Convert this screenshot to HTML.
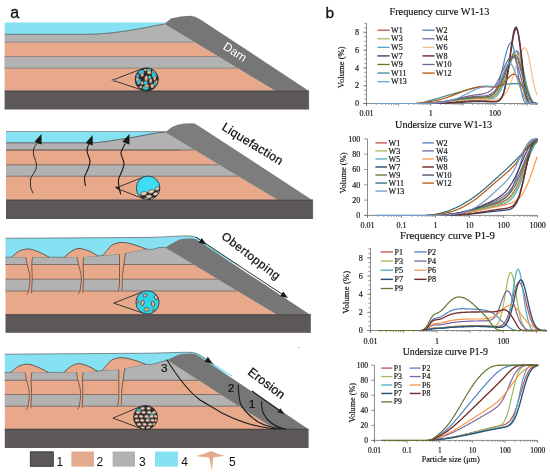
<!DOCTYPE html>
<html><head><meta charset="utf-8"><title>Figure</title>
<style>html,body{margin:0;padding:0;background:#fff}svg{display:block}</style>
</head><body>
<svg width="550" height="474" viewBox="0 0 550 474">
<rect width="550" height="474" fill="#fff"/>
<polygon points="4.6,42.2 194.53,42.2 275,90.8 4.6,90.8" fill="#e7a98a"/>
<polygon points="4.6,56.5 218.21,56.5 237.58,68.2 4.6,68.2" fill="#b2b2b2"/>
<path d="M4.6,34.3 L85,34.3 C115,34.3 140,28.5 164.4,24 L194.53,42.2 L4.6,42.2 Z" fill="#b2b2b2"/>
<line x1="4.6" y1="42.2" x2="194.53" y2="42.2" stroke="#6a5e5a" stroke-width="0.6" opacity="0.85"/>
<line x1="4.6" y1="56.5" x2="218.21" y2="56.5" stroke="#6a5e5a" stroke-width="0.6" opacity="0.85"/>
<line x1="4.6" y1="68.2" x2="237.58" y2="68.2" stroke="#6a5e5a" stroke-width="0.6" opacity="0.85"/>
<path d="M4.6,22.5 L167,22.5 L164.4,24 C140,28.5 115,34.3 85,34.3 L4.6,34.3 Z" fill="#86e1f3"/>
<path d="M4.6,34.3 L85,34.3 C115,34.3 140,28.5 164.4,24" fill="none" stroke="#333" stroke-width="0.6"/>
<path d="M164.4,24 L171,18.6 Q181,16 190,15.8 Q195.5,15.9 200,19.2 L308.6,90.8 L275,90.8 Z" fill="#767676"/>
<rect x="4.6" y="90.8" width="304.4" height="18.7" fill="#5c5857"/>
<line x1="4.6" y1="91" x2="309" y2="91" stroke="#3a3838" stroke-width="0.8"/>
<line x1="308.7" y1="90.8" x2="308.7" y2="109.5" stroke="#777" stroke-width="0.6"/>
<text x="235" y="56" font-family="Liberation Sans, Arial, sans-serif" font-size="12" fill="#fff" text-anchor="middle" transform="rotate(33 235 52)">Dam</text>
<line x1="112.4" y1="80.2" x2="142.52" y2="68.58" stroke="#2b2b2b" stroke-width="0.9"/>
<line x1="112.4" y1="80.2" x2="143.03" y2="90.41" stroke="#2b2b2b" stroke-width="0.9"/>
<circle cx="112.9" cy="80.2" r="1" fill="#f3ddd0" stroke="#2b2b2b" stroke-width="0.5"/>
<circle cx="146.7" cy="79.4" r="11.6" fill="#2a2c2e"/>
<clipPath id="cp1"><circle cx="146.7" cy="79.4" r="11.6"/></clipPath>
<g clip-path="url(#cp1)">
<ellipse cx="141.2" cy="71.9" rx="3" ry="2" fill="#2fc4d6"/>
<ellipse cx="154.2" cy="74.4" rx="2.5" ry="3.5" fill="#2fc4d6"/>
<ellipse cx="138.7" cy="81.4" rx="2" ry="3" fill="#2fc4d6"/>
<ellipse cx="145.7" cy="82.9" rx="2" ry="2" fill="#2fc4d6"/>
<ellipse cx="149.7" cy="77.4" rx="1.5" ry="1.8" fill="#2fc4d6"/>
<ellipse cx="145.7" cy="87.9" rx="3" ry="1.8" fill="#2fc4d6"/>
<ellipse cx="155.2" cy="83.4" rx="1.5" ry="2.5" fill="#2fc4d6"/>
<ellipse cx="137.7" cy="75.9" rx="1.5" ry="2" fill="#2fc4d6"/>
<ellipse cx="148.7" cy="69.9" rx="2.5" ry="1.5" fill="#2fc4d6"/>
<ellipse cx="142.2" cy="74.9" rx="1.6" ry="1.9" transform="rotate(20 142.2 74.9)" fill="#e9b596" stroke="#2b2b2b" stroke-width="0.3"/>
<ellipse cx="149.2" cy="72.4" rx="2.2" ry="1.8" transform="rotate(0 149.2 72.4)" fill="#e9b596" stroke="#2b2b2b" stroke-width="0.3"/>
<ellipse cx="146.2" cy="78.4" rx="1.7" ry="2.8" transform="rotate(5 146.2 78.4)" fill="#e9b596" stroke="#2b2b2b" stroke-width="0.3"/>
<ellipse cx="137.2" cy="79.4" rx="1.3" ry="2.2" transform="rotate(0 137.2 79.4)" fill="#e9b596" stroke="#2b2b2b" stroke-width="0.3"/>
<ellipse cx="150.7" cy="80.9" rx="1.5" ry="2.3" transform="rotate(10 150.7 80.9)" fill="#e9b596" stroke="#2b2b2b" stroke-width="0.3"/>
<ellipse cx="154.7" cy="77.9" rx="1.4" ry="2.5" transform="rotate(0 154.7 77.9)" fill="#e9b596" stroke="#2b2b2b" stroke-width="0.3"/>
<ellipse cx="142.2" cy="82.9" rx="1.4" ry="2" transform="rotate(0 142.2 82.9)" fill="#e9b596" stroke="#2b2b2b" stroke-width="0.3"/>
<ellipse cx="152.2" cy="85.9" rx="1.8" ry="2.2" transform="rotate(0 152.2 85.9)" fill="#e9b596" stroke="#2b2b2b" stroke-width="0.3"/>
<ellipse cx="146.7" cy="85.9" rx="2.3" ry="1.3" transform="rotate(0 146.7 85.9)" fill="#e9b596" stroke="#2b2b2b" stroke-width="0.3"/>
<ellipse cx="140.7" cy="86.9" rx="1.5" ry="1.5" transform="rotate(0 140.7 86.9)" fill="#e9b596" stroke="#2b2b2b" stroke-width="0.3"/>
<ellipse cx="145.2" cy="69.9" rx="1.5" ry="1.2" transform="rotate(0 145.2 69.9)" fill="#e9b596" stroke="#2b2b2b" stroke-width="0.3"/>
<ellipse cx="156.7" cy="81.9" rx="1.1" ry="1.9" transform="rotate(0 156.7 81.9)" fill="#e9b596" stroke="#2b2b2b" stroke-width="0.3"/>
<ellipse cx="153.7" cy="71.4" rx="1.6" ry="1.3" transform="rotate(30 153.7 71.4)" fill="#e9b596" stroke="#2b2b2b" stroke-width="0.3"/>
</g>
<circle cx="146.7" cy="79.4" r="11.6" fill="none" stroke="#2a2c2e" stroke-width="0.8"/>
<text x="10.2" y="17.8" font-family="Liberation Sans, Arial, sans-serif" font-size="16" fill="#111" stroke="#111" stroke-width="0.3">a</text>
<text x="325.6" y="17.8" font-family="Liberation Sans, Arial, sans-serif" font-size="15.5" fill="#111" stroke="#111" stroke-width="0.3">b</text>
<polygon points="6,150 194.5,150 277.5,199.8 6,199.8" fill="#e7a98a"/>
<polygon points="6,164.8 219.17,164.8 238.17,176.2 6,176.2" fill="#b2b2b2"/>
<path d="M6,142.8 L95,142.8 C96.67,142.6 101.67,142.05 105,141.6 C108.33,141.15 110,140.87 115,140.1 C120,139.33 128.33,138.15 135,137 C141.67,135.85 150,133.98 155,133.2 C160,132.42 163.33,132.45 165,132.3 L194.5,150 L6,150 Z" fill="#b2b2b2"/>
<line x1="6" y1="150" x2="194.5" y2="150" stroke="#6a5a55" stroke-width="0.8" opacity="0.9"/>
<line x1="6" y1="164.8" x2="219.17" y2="164.8" stroke="#6a5a55" stroke-width="0.8" opacity="0.9"/>
<line x1="6" y1="176.2" x2="238.17" y2="176.2" stroke="#6a5a55" stroke-width="0.8" opacity="0.9"/>
<path d="M6,131.5 L166.2,131.5 L165,132.3  C163.33,132.45 160,132.42 155,133.2 C150,133.98 141.67,135.85 135,137 C128.33,138.15 120,139.33 115,140.1 C110,140.87 108.33,141.15 105,141.6 C101.67,142.05 96.67,142.6 95,142.8 L6,142.8 Z" fill="#86e1f3"/>
<line x1="6" y1="131.5" x2="166" y2="131.5" stroke="#666" stroke-width="0.6"/>
<path d="M6,142.8 L95,142.8 C96.67,142.6 101.67,142.05 105,141.6 C108.33,141.15 110,140.87 115,140.1 C120,139.33 128.33,138.15 135,137 C141.67,135.85 150,133.98 155,133.2 C160,132.42 163.33,132.45 165,132.3" fill="none" stroke="#333" stroke-width="0.7"/>
<line x1="6" y1="150" x2="180" y2="150" stroke="#6a5a55" stroke-width="0.8" opacity="0.9"/>
<path d="M165,132.3 L172,127 Q177,124.3 184,123.6 L192.5,123.3 Q195,123.4 198,125.5 L311,199.2 L311,199.8 L277.5,199.8 Z" fill="#7d7d7d"/>
<rect x="6" y="199.8" width="307" height="19.2" fill="#5c5857"/>
<line x1="6" y1="200" x2="313" y2="200" stroke="#3a3838" stroke-width="0.8"/>
<line x1="312.7" y1="199.8" x2="312.7" y2="219" stroke="#777" stroke-width="0.6"/>
<text x="252.7" y="148" font-family="Liberation Sans, Arial, sans-serif" font-size="12.3" letter-spacing="0.25" fill="#111" stroke="#111" stroke-width="0.25" text-anchor="middle" transform="rotate(31.5 252.7 143.8)">Liquefaction</text>
<path d="M33,193 C31,189 30.3,187 30.5,185 C30.3,182 30.4,180 31,178 C32,175.5 33.5,174 34.5,172 C36,169.5 36.6,167.5 36.5,165 C36.3,162.5 35.5,161 35,159 C34.2,157 33.6,156 33.5,154 C33.3,151.5 33.4,150 34,148 C34.8,146 36,144.5 37.8,142.8" fill="none" stroke="#1a1a1a" stroke-width="0.9" stroke-linecap="round"/>
<polygon points="41.5,134 41.65,144.51 38.08,143.19 34.52,141.86" fill="#1a1a1a"/>
<path d="M85.4,185.5 C85.27,184.08 84.17,179.75 84.6,177 C85.03,174.25 87.1,171.67 88,169 C88.9,166.33 90.17,164 90,161 C89.83,158 87.17,153.97 87,151 C86.83,148.03 88.67,144.5 89,143.2" fill="none" stroke="#1a1a1a" stroke-width="1.1" stroke-linecap="round"/>
<polygon points="92.6,135 92.82,145.51 89.25,144.21 85.68,142.91" fill="#1a1a1a"/>
<path d="M120.6,194 C120.33,192.83 119.33,189.5 119,187 C118.67,184.5 118.1,181.67 118.6,179 C119.1,176.33 121.1,173.67 122,171 C122.9,168.33 124.17,166 124,163 C123.83,160 120.83,156.17 121,153 C121.17,149.83 124.33,145.5 125,144" fill="none" stroke="#1a1a1a" stroke-width="1.1" stroke-linecap="round"/>
<polygon points="129.4,134 129.44,144.51 125.89,143.15 122.34,141.79" fill="#1a1a1a"/>
<line x1="116" y1="188" x2="143.73" y2="176.94" stroke="#2b2b2b" stroke-width="0.9"/>
<line x1="116" y1="188" x2="143.8" y2="198.89" stroke="#2b2b2b" stroke-width="0.9"/>
<path d="M114.3,186.6 L118.8,187 L121,192.5 L118.5,189.5 Z" fill="#1a1a1a"/>
<clipPath id="cp2"><circle cx="148.1" cy="187.9" r="11.8"/></clipPath>
<circle cx="148.1" cy="187.9" r="11.8" fill="#3fdcf3"/>
<g clip-path="url(#cp2)">
<path d="M140.1,194.4 l4,-1 l4.5,-1.5 l5,-1.5 l5,-3 l5,-2 l0,16 l-20,4 Z" fill="#2a2c2e"/>
<ellipse cx="143.9" cy="193.5" rx="3.1" ry="1.9" transform="rotate(-8 143.9 193.5)" fill="#f1cfba" stroke="#2b2b2b" stroke-width="0.5"/>
<ellipse cx="151.3" cy="191.5" rx="3" ry="1.8" transform="rotate(-14 151.3 191.5)" fill="#f1cfba" stroke="#2b2b2b" stroke-width="0.5"/>
<ellipse cx="157.3" cy="188.7" rx="2.4" ry="1.6" transform="rotate(-22 157.3 188.7)" fill="#f1cfba" stroke="#2b2b2b" stroke-width="0.5"/>
<ellipse cx="148.9" cy="196.5" rx="3" ry="1.7" transform="rotate(-6 148.9 196.5)" fill="#f1cfba" stroke="#2b2b2b" stroke-width="0.5"/>
<ellipse cx="155.7" cy="193.9" rx="2.7" ry="1.7" transform="rotate(-14 155.7 193.9)" fill="#f1cfba" stroke="#2b2b2b" stroke-width="0.5"/>
<ellipse cx="145.9" cy="199.1" rx="2.6" ry="1.3" transform="rotate(0 145.9 199.1)" fill="#f1cfba" stroke="#2b2b2b" stroke-width="0.5"/>
<ellipse cx="152.7" cy="198.7" rx="2.5" ry="1.3" transform="rotate(-8 152.7 198.7)" fill="#f1cfba" stroke="#2b2b2b" stroke-width="0.5"/>
<ellipse cx="159.1" cy="192.1" rx="1.4" ry="1.3" transform="rotate(0 159.1 192.1)" fill="#f1cfba" stroke="#2b2b2b" stroke-width="0.5"/>
</g>
<circle cx="148.1" cy="187.9" r="11.8" fill="none" stroke="#2a2c2e" stroke-width="0.8"/>
<polygon points="5.5,264.5 193.42,264.5 276.5,314.5 5.5,314.5" fill="#e7a98a"/>
<polygon points="5.5,279.2 217.84,279.2 237.45,291 5.5,291" fill="#b2b2b2"/>
<path d="M5.5,257.2 L64,257.2 L98,256 L103,255.3 L119.5,254.2 L125.5,253 L146,249 L152,249.5 L159,247.5 L165,247.4 L193.42,264.5 L5.5,264.5 Z" fill="#b2b2b2"/>
<line x1="5.5" y1="264.5" x2="193.42" y2="264.5" stroke="#6a5a55" stroke-width="0.8" opacity="0.9"/>
<line x1="5.5" y1="279.2" x2="217.84" y2="279.2" stroke="#6a5a55" stroke-width="0.8" opacity="0.9"/>
<line x1="5.5" y1="291" x2="237.45" y2="291" stroke="#6a5a55" stroke-width="0.8" opacity="0.9"/>
<path d="M5.5,238.3 L150,237.4 C170,236.8 180,235.8 188,235.9 C193,236 196,237 199,239 L240,266 L239.5,266.8 L197,241.5 L166,249 L160,259 L5.5,259 Z" fill="#86e1f3"/>
<path d="M5.5,257.2 L64,257.2 L98,256 L103,255.3 L119.5,254.2 L125.5,253 L146,249 L152,249.5 L159,247.5 L165,247.4 L193.42,264.5 L5.5,264.5 Z" fill="#b2b2b2"/>
<line x1="5.5" y1="264.5" x2="193.42" y2="264.5" stroke="#6a5a55" stroke-width="0.7" opacity="0.9"/>
<path d="M5.5,257.2 L64,257.2 L98,256 L103,255.3 L119.5,254.2 L125.5,253 L146,249 L152,249.5 L159,247.5 L165,247.4" fill="none" stroke="#555" stroke-width="0.6"/>
<path d="M165,247.4 L178,240.2 Q180.5,239 184,238.8 L191.5,238.5 Q195.5,238.6 198.4,240.8 L309,314 L309,314.5 L276.5,314.5 Z" fill="#767676"/>
<path d="M11.5,257.2 C12.08,256.7 13.58,255.28 15,254.2 C16.42,253.12 17.67,251.57 20,250.7 C22.33,249.83 25.67,248.7 29,249 C32.33,249.3 36.67,251.13 40,252.5 C43.33,253.87 47.5,256.42 49,257.2 L32.5,257.2 C32.38,258.42 31.85,261.17 31.8,264.5 C31.75,267.83 32.23,272.78 32.2,277.2 C32.17,281.62 31.72,288.33 31.6,291 C31.48,293.67 31.52,292.83 31.5,293.2 L28.7,290.9 L26.5,294.4 C26.87,293.83 28.12,293.87 28.7,291 C29.28,288.13 30.25,281.62 30,277.2 C29.75,272.78 27.9,267.83 27.2,264.5 C26.5,261.17 26.03,258.42 25.8,257.2 Z" fill="#e7a98a"/>
<path d="M11.5,257.2 C12.08,256.7 13.58,255.28 15,254.2 C16.42,253.12 17.67,251.57 20,250.7 C22.33,249.83 25.67,248.7 29,249 C32.33,249.3 36.67,251.13 40,252.5 C43.33,253.87 47.5,256.42 49,257.2" fill="none" stroke="#4a3c38" stroke-width="0.8"/>
<path d="M25.8,257.2 C26.03,258.42 26.5,261.17 27.2,264.5 C27.9,267.83 29.75,272.78 30,277.2 C30.25,281.62 29.28,288.13 28.7,291 C28.12,293.87 26.87,293.83 26.5,294.4" fill="none" stroke="#4a3c38" stroke-width="0.7"/>
<path d="M32.5,257.2 C32.38,258.42 31.85,261.17 31.8,264.5 C31.75,267.83 32.23,272.78 32.2,277.2 C32.17,281.62 31.72,288.33 31.6,291 C31.48,293.67 31.52,292.83 31.5,293.2" fill="none" stroke="#4a3c38" stroke-width="0.7"/>
<path d="M64.5,257.2 C65.08,256.67 66.58,255.15 68,254 C69.42,252.85 71,251.22 73,250.3 C75,249.38 77.17,248.3 80,248.5 C82.83,248.7 87,250.25 90,251.5 C93,252.75 96.67,255.25 98,256 L83.8,257 C83.68,258.22 83.15,260.97 83.1,264.3 C83.05,267.63 83.53,272.58 83.5,277 C83.47,281.42 83.02,288.13 82.9,290.8 C82.78,293.47 82.82,292.63 82.8,293 L80,290.7 L77.8,294.2 C78.17,293.63 79.42,293.67 80,290.8 C80.58,287.93 81.55,281.42 81.3,277 C81.05,272.58 79.2,267.63 78.5,264.3 C77.8,260.97 77.33,258.22 77.1,257 Z" fill="#e7a98a"/>
<path d="M64.5,257.2 C65.08,256.67 66.58,255.15 68,254 C69.42,252.85 71,251.22 73,250.3 C75,249.38 77.17,248.3 80,248.5 C82.83,248.7 87,250.25 90,251.5 C93,252.75 96.67,255.25 98,256" fill="none" stroke="#4a3c38" stroke-width="0.8"/>
<path d="M77.1,257 C77.33,258.22 77.8,260.97 78.5,264.3 C79.2,267.63 81.05,272.58 81.3,277 C81.55,281.42 80.58,287.93 80,290.8 C79.42,293.67 78.17,293.63 77.8,294.2" fill="none" stroke="#4a3c38" stroke-width="0.7"/>
<path d="M83.8,257 C83.68,258.22 83.15,260.97 83.1,264.3 C83.05,267.63 83.53,272.58 83.5,277 C83.47,281.42 83.02,288.13 82.9,290.8 C82.78,293.47 82.82,292.63 82.8,293" fill="none" stroke="#4a3c38" stroke-width="0.7"/>
<path d="M103,255.3 C103.67,254.5 105.33,252.3 107,250.5 C108.67,248.7 110.33,245.83 113,244.5 C115.67,243.17 119.33,242.42 123,242.5 C126.67,242.58 131.17,243.92 135,245 C138.83,246.08 144.17,248.33 146,249 L125.5,253 C125.27,254.67 124.6,259.33 124.1,263 C123.6,266.67 122.83,271 122.5,275 C122.17,279 122.17,284.42 122.1,287 C122.03,289.58 122.1,289.92 122.1,290.5 L120.1,288 L117.9,291.5 C118.13,290.58 119.03,288.42 119.3,286 C119.57,283.58 119.47,280.83 119.5,277 C119.53,273.17 119.5,266.8 119.5,263 C119.5,259.2 119.5,255.67 119.5,254.2 Z" fill="#e7a98a"/>
<path d="M103,255.3 C103.67,254.5 105.33,252.3 107,250.5 C108.67,248.7 110.33,245.83 113,244.5 C115.67,243.17 119.33,242.42 123,242.5 C126.67,242.58 131.17,243.92 135,245 C138.83,246.08 144.17,248.33 146,249" fill="none" stroke="#4a3c38" stroke-width="0.8"/>
<path d="M119.5,254.2 C119.5,255.67 119.5,259.2 119.5,263 C119.5,266.8 119.53,273.17 119.5,277 C119.47,280.83 119.57,283.58 119.3,286 C119.03,288.42 118.13,290.58 117.9,291.5" fill="none" stroke="#4a3c38" stroke-width="0.7"/>
<path d="M125.5,253 C125.27,254.67 124.6,259.33 124.1,263 C123.6,266.67 122.83,271 122.5,275 C122.17,279 122.17,284.42 122.1,287 C122.03,289.58 122.1,289.92 122.1,290.5" fill="none" stroke="#4a3c38" stroke-width="0.7"/>
<rect x="5.5" y="314.5" width="305.3" height="18.3" fill="#5c5857"/>
<line x1="5.5" y1="314.7" x2="310.8" y2="314.7" stroke="#3a3838" stroke-width="0.8"/>
<line x1="310.5" y1="314.5" x2="310.5" y2="332.8" stroke="#777" stroke-width="0.6"/>
<path d="M5.5,238.3 L150,237.4 C170,236.8 180,235.8 188,235.9 C193,236 196,237 199,239.2" fill="none" stroke="#444" stroke-width="0.6"/>
<path d="M196,237.2 C197,237.6 198,238.4 199,239.2 L286,296.8" fill="none" stroke="#222" stroke-width="0.95"/>
<polygon points="206.4,244.6 198.56,242.81 200.18,240.41 201.8,238" fill="#1a1a1a"/>
<polygon points="288,298 280.2,296.2 281.75,293.86 283.29,291.53" fill="#1a1a1a"/>
<text x="251.2" y="260" font-family="Liberation Sans, Arial, sans-serif" font-size="11.7" letter-spacing="0.55" fill="#111" stroke="#111" stroke-width="0.25" text-anchor="middle" transform="rotate(37.3 251.2 256)">Obertopping</text>
<line x1="113.7" y1="303.1" x2="143.3" y2="291.59" stroke="#2b2b2b" stroke-width="0.9"/>
<line x1="113.7" y1="303.1" x2="143.75" y2="313.38" stroke="#2b2b2b" stroke-width="0.9"/>
<circle cx="147.5" cy="302.4" r="11.6" fill="#2fd2e6" stroke="#2a2c2e" stroke-width="0.8"/>
<ellipse cx="145" cy="295.4" rx="2.2" ry="1.5" transform="rotate(-25 145 295.4)" fill="#e9b596" stroke="#2b2b2b" stroke-width="0.6"/>
<ellipse cx="156" cy="297.4" rx="1.6" ry="2.4" transform="rotate(-20 156 297.4)" fill="#e9b596" stroke="#2b2b2b" stroke-width="0.6"/>
<ellipse cx="142.5" cy="302.9" rx="1.6" ry="2.8" transform="rotate(15 142.5 302.9)" fill="#e9b596" stroke="#2b2b2b" stroke-width="0.6"/>
<ellipse cx="153" cy="303.9" rx="1.6" ry="2.8" transform="rotate(-10 153 303.9)" fill="#e9b596" stroke="#2b2b2b" stroke-width="0.6"/>
<ellipse cx="146.5" cy="309.4" rx="2.6" ry="1.7" transform="rotate(0 146.5 309.4)" fill="#e9b596" stroke="#2b2b2b" stroke-width="0.6"/>
<ellipse cx="137.3" cy="301.4" rx="0.9" ry="2.2" transform="rotate(0 137.3 301.4)" fill="#e9b596" stroke="#2b2b2b" stroke-width="0.6"/>
<ellipse cx="153.5" cy="310.4" rx="1.5" ry="1" transform="rotate(-30 153.5 310.4)" fill="#e9b596" stroke="#2b2b2b" stroke-width="0.6"/>
<polygon points="4.8,380.2 198.47,380.2 274.5,429 4.8,429" fill="#e7a98a"/>
<polygon points="4.8,394.5 220.75,394.5 238.98,406.2 4.8,406.2" fill="#b2b2b2"/>
<path d="M4.8,372.4 L63.3,372.4 L97.3,371.2 L102.3,370.5 L118.8,369.4 L124.8,368.2 L145.3,364.2 L151.3,364.7 L158.3,362.7 L167,360 L198.47,380.2 L4.8,380.2 Z" fill="#b2b2b2"/>
<line x1="4.8" y1="380.2" x2="198.47" y2="380.2" stroke="#6a5a55" stroke-width="0.8" opacity="0.9"/>
<line x1="4.8" y1="394.5" x2="220.75" y2="394.5" stroke="#6a5a55" stroke-width="0.8" opacity="0.9"/>
<line x1="4.8" y1="406.2" x2="238.98" y2="406.2" stroke="#6a5a55" stroke-width="0.8" opacity="0.9"/>
<path d="M4.8,354.2 L150,353.2 C170,352.8 180,352.2 189,352.3 C194,352.4 197,353 200,355 L232,375.6 L231.5,376.4 L197,357 L168,361 L160,374 L4.8,374 Z" fill="#86e1f3"/>
<path d="M4.8,372.4 L63.3,372.4 L97.3,371.2 L102.3,370.5 L118.8,369.4 L124.8,368.2 L145.3,364.2 L151.3,364.7 L158.3,362.7 L167,360 L198.47,380.2 L4.8,380.2 Z" fill="#b2b2b2"/>
<line x1="4.8" y1="380.2" x2="198.47" y2="380.2" stroke="#6a5a55" stroke-width="0.7" opacity="0.9"/>
<path d="M4.8,372.4 L63.3,372.4 L97.3,371.2 L102.3,370.5 L118.8,369.4 L124.8,368.2 L145.3,364.2 L151.3,364.7 L158.3,362.7 L167,360" fill="none" stroke="#555" stroke-width="0.6"/>
<path d="M167,360 L178,355 Q180.5,354 184,353.8 L191,353.4 Q195,353.4 198,355.4 L307.5,428.6 L307.5,429 L274.5,429 Z" fill="#767676"/>
<path d="M10.8,372.4 C11.38,371.9 12.88,370.48 14.3,369.4 C15.72,368.32 16.97,366.77 19.3,365.9 C21.63,365.03 24.97,363.9 28.3,364.2 C31.63,364.5 35.97,366.33 39.3,367.7 C42.63,369.07 46.8,371.62 48.3,372.4 L31.8,372.4 C31.68,373.62 31.15,376.37 31.1,379.7 C31.05,383.03 31.53,387.98 31.5,392.4 C31.47,396.82 31.02,403.53 30.9,406.2 C30.78,408.87 30.82,408.03 30.8,408.4 L28,406.1 L25.8,409.6 C26.17,409.03 27.42,409.07 28,406.2 C28.58,403.33 29.55,396.82 29.3,392.4 C29.05,387.98 27.2,383.03 26.5,379.7 C25.8,376.37 25.33,373.62 25.1,372.4 Z" fill="#e7a98a"/>
<path d="M10.8,372.4 C11.38,371.9 12.88,370.48 14.3,369.4 C15.72,368.32 16.97,366.77 19.3,365.9 C21.63,365.03 24.97,363.9 28.3,364.2 C31.63,364.5 35.97,366.33 39.3,367.7 C42.63,369.07 46.8,371.62 48.3,372.4" fill="none" stroke="#4a3c38" stroke-width="0.8"/>
<path d="M25.1,372.4 C25.33,373.62 25.8,376.37 26.5,379.7 C27.2,383.03 29.05,387.98 29.3,392.4 C29.55,396.82 28.58,403.33 28,406.2 C27.42,409.07 26.17,409.03 25.8,409.6" fill="none" stroke="#4a3c38" stroke-width="0.7"/>
<path d="M31.8,372.4 C31.68,373.62 31.15,376.37 31.1,379.7 C31.05,383.03 31.53,387.98 31.5,392.4 C31.47,396.82 31.02,403.53 30.9,406.2 C30.78,408.87 30.82,408.03 30.8,408.4" fill="none" stroke="#4a3c38" stroke-width="0.7"/>
<path d="M63.8,372.4 C64.38,371.87 65.88,370.35 67.3,369.2 C68.72,368.05 70.3,366.42 72.3,365.5 C74.3,364.58 76.47,363.5 79.3,363.7 C82.13,363.9 86.3,365.45 89.3,366.7 C92.3,367.95 95.97,370.45 97.3,371.2 L83.1,372.2 C82.98,373.42 82.45,376.17 82.4,379.5 C82.35,382.83 82.83,387.78 82.8,392.2 C82.77,396.62 82.32,403.33 82.2,406 C82.08,408.67 82.12,407.83 82.1,408.2 L79.3,405.9 L77.1,409.4 C77.47,408.83 78.72,408.87 79.3,406 C79.88,403.13 80.85,396.62 80.6,392.2 C80.35,387.78 78.5,382.83 77.8,379.5 C77.1,376.17 76.63,373.42 76.4,372.2 Z" fill="#e7a98a"/>
<path d="M63.8,372.4 C64.38,371.87 65.88,370.35 67.3,369.2 C68.72,368.05 70.3,366.42 72.3,365.5 C74.3,364.58 76.47,363.5 79.3,363.7 C82.13,363.9 86.3,365.45 89.3,366.7 C92.3,367.95 95.97,370.45 97.3,371.2" fill="none" stroke="#4a3c38" stroke-width="0.8"/>
<path d="M76.4,372.2 C76.63,373.42 77.1,376.17 77.8,379.5 C78.5,382.83 80.35,387.78 80.6,392.2 C80.85,396.62 79.88,403.13 79.3,406 C78.72,408.87 77.47,408.83 77.1,409.4" fill="none" stroke="#4a3c38" stroke-width="0.7"/>
<path d="M83.1,372.2 C82.98,373.42 82.45,376.17 82.4,379.5 C82.35,382.83 82.83,387.78 82.8,392.2 C82.77,396.62 82.32,403.33 82.2,406 C82.08,408.67 82.12,407.83 82.1,408.2" fill="none" stroke="#4a3c38" stroke-width="0.7"/>
<path d="M102.3,370.5 C102.97,369.7 104.63,367.5 106.3,365.7 C107.97,363.9 109.63,361.03 112.3,359.7 C114.97,358.37 118.63,357.62 122.3,357.7 C125.97,357.78 130.47,359.12 134.3,360.2 C138.13,361.28 143.47,363.53 145.3,364.2 L124.8,368.2 C124.57,369.87 123.9,374.53 123.4,378.2 C122.9,381.87 122.13,386.2 121.8,390.2 C121.47,394.2 121.47,399.62 121.4,402.2 C121.33,404.78 121.4,405.12 121.4,405.7 L119.4,403.2 L117.2,406.7 C117.43,405.78 118.33,403.62 118.6,401.2 C118.87,398.78 118.77,396.03 118.8,392.2 C118.83,388.37 118.8,382 118.8,378.2 C118.8,374.4 118.8,370.87 118.8,369.4 Z" fill="#e7a98a"/>
<path d="M102.3,370.5 C102.97,369.7 104.63,367.5 106.3,365.7 C107.97,363.9 109.63,361.03 112.3,359.7 C114.97,358.37 118.63,357.62 122.3,357.7 C125.97,357.78 130.47,359.12 134.3,360.2 C138.13,361.28 143.47,363.53 145.3,364.2" fill="none" stroke="#4a3c38" stroke-width="0.8"/>
<path d="M118.8,369.4 C118.8,370.87 118.8,374.4 118.8,378.2 C118.8,382 118.83,388.37 118.8,392.2 C118.77,396.03 118.87,398.78 118.6,401.2 C118.33,403.62 117.43,405.78 117.2,406.7" fill="none" stroke="#4a3c38" stroke-width="0.7"/>
<path d="M124.8,368.2 C124.57,369.87 123.9,374.53 123.4,378.2 C122.9,381.87 122.13,386.2 121.8,390.2 C121.47,394.2 121.47,399.62 121.4,402.2 C121.33,404.78 121.4,405.12 121.4,405.7" fill="none" stroke="#4a3c38" stroke-width="0.7"/>
<rect x="4.8" y="429" width="303.7" height="19" fill="#5c5857"/>
<line x1="4.8" y1="429.2" x2="308.5" y2="429.2" stroke="#3a3838" stroke-width="0.8"/>
<line x1="308.2" y1="429" x2="308.2" y2="448" stroke="#777" stroke-width="0.6"/>
<path d="M4.8,354.2 L150,353.2 C170,352.8 180,352.2 189,352.3 C194,352.4 197,353.2 200,355.2 L214,364.4" fill="none" stroke="#444" stroke-width="0.6"/>
<polygon points="212.8,363.8 204.49,361.81 206.17,359.33 207.85,356.84" fill="#1a1a1a"/>
<path d="M167,360 C172,368 176,374 180,379 C186,387 192,394 200,400 C208,405 214,408 222,413 C232,418 244,423 255,425.5 C262,427 268,428.2 276,429" fill="none" stroke="#1a1a1a" stroke-width="1.1" stroke-linecap="round"/>
<path d="M238.2,385 C238.6,392 239,398 240,402 C242,409 248,415 258,422 C266,426 273,428 281,429" fill="none" stroke="#1a1a1a" stroke-width="1.1" stroke-linecap="round"/>
<path d="M261.6,401.5 C261,409 263,415 268,420 C273,425 279,428 285.5,429" fill="none" stroke="#1a1a1a" stroke-width="1.1" stroke-linecap="round"/>
<text x="161" y="372.4" font-family="Liberation Sans, Arial, sans-serif" font-size="11.8" fill="#111" stroke="#111" stroke-width="0.2">3</text>
<text x="227.8" y="391.6" font-family="Liberation Sans, Arial, sans-serif" font-size="11.8" fill="#111" stroke="#111" stroke-width="0.2">2</text>
<text x="248.8" y="408" font-family="Liberation Sans, Arial, sans-serif" font-size="11.8" fill="#111" stroke="#111" stroke-width="0.2">1</text>
<line x1="252" y1="391" x2="281" y2="411.6" stroke="#1a1a1a" stroke-width="1.2"/>
<polygon points="284.6,414.3 277.45,412.27 278.9,410.24 280.35,408.2" fill="#1a1a1a"/>
<text x="266.6" y="387.5" font-family="Liberation Sans, Arial, sans-serif" font-size="12.4" letter-spacing="0.1" fill="#111" stroke="#111" stroke-width="0.25" text-anchor="middle" transform="rotate(37 266.6 383.3)">Erosion</text>
<line x1="112.9" y1="418.1" x2="140.96" y2="406.33" stroke="#2b2b2b" stroke-width="0.9"/>
<line x1="112.9" y1="418.1" x2="141.44" y2="428.65" stroke="#2b2b2b" stroke-width="0.9"/>
<clipPath id="cp4"><circle cx="145.6" cy="417.4" r="12"/></clipPath>
<circle cx="145.6" cy="417.4" r="12" fill="#2a2c2e"/>
<g clip-path="url(#cp4)">
<ellipse cx="138.6" cy="410.4" rx="2.5" ry="2" fill="#2fc4d6"/>
<ellipse cx="152.1" cy="413.9" rx="2.5" ry="1.8" fill="#2fc4d6"/>
<ellipse cx="148.1" cy="418.9" rx="1.5" ry="2.2" fill="#2fc4d6"/>
<ellipse cx="142.6" cy="408.4" rx="2.3" ry="1.55" transform="rotate(-6.29 142.6 408.4)" fill="#eec3aa" stroke="#2b2b2b" stroke-width="0.45"/>
<ellipse cx="148.6" cy="408.4" rx="2.3" ry="1.55" transform="rotate(1.06 148.6 408.4)" fill="#eec3aa" stroke="#2b2b2b" stroke-width="0.45"/>
<ellipse cx="138.1" cy="412.4" rx="2.3" ry="1.55" transform="rotate(-3.12 138.1 412.4)" fill="#eec3aa" stroke="#2b2b2b" stroke-width="0.45"/>
<ellipse cx="143.6" cy="412.4" rx="2.3" ry="1.55" transform="rotate(2.49 143.6 412.4)" fill="#eec3aa" stroke="#2b2b2b" stroke-width="0.45"/>
<ellipse cx="149.1" cy="412.4" rx="2.3" ry="1.55" transform="rotate(3.02 149.1 412.4)" fill="#eec3aa" stroke="#2b2b2b" stroke-width="0.45"/>
<ellipse cx="154.1" cy="412.4" rx="2.3" ry="1.55" transform="rotate(-10.43 154.1 412.4)" fill="#eec3aa" stroke="#2b2b2b" stroke-width="0.45"/>
<ellipse cx="136.1" cy="416.4" rx="2.3" ry="1.55" transform="rotate(-11.68 136.1 416.4)" fill="#eec3aa" stroke="#2b2b2b" stroke-width="0.45"/>
<ellipse cx="141.1" cy="416.4" rx="2.3" ry="1.55" transform="rotate(8.1 141.1 416.4)" fill="#eec3aa" stroke="#2b2b2b" stroke-width="0.45"/>
<ellipse cx="146.6" cy="416.4" rx="2.3" ry="1.55" transform="rotate(-5.78 146.6 416.4)" fill="#eec3aa" stroke="#2b2b2b" stroke-width="0.45"/>
<ellipse cx="151.6" cy="416.4" rx="2.3" ry="1.55" transform="rotate(-6.38 151.6 416.4)" fill="#eec3aa" stroke="#2b2b2b" stroke-width="0.45"/>
<ellipse cx="156.1" cy="416.4" rx="2.3" ry="1.55" transform="rotate(11.9 156.1 416.4)" fill="#eec3aa" stroke="#2b2b2b" stroke-width="0.45"/>
<ellipse cx="137.1" cy="420.4" rx="2.3" ry="1.55" transform="rotate(-0.71 137.1 420.4)" fill="#eec3aa" stroke="#2b2b2b" stroke-width="0.45"/>
<ellipse cx="142.1" cy="420.4" rx="2.3" ry="1.55" transform="rotate(8.08 142.1 420.4)" fill="#eec3aa" stroke="#2b2b2b" stroke-width="0.45"/>
<ellipse cx="147.6" cy="420.4" rx="2.3" ry="1.55" transform="rotate(-0.57 147.6 420.4)" fill="#eec3aa" stroke="#2b2b2b" stroke-width="0.45"/>
<ellipse cx="152.6" cy="420.4" rx="2.3" ry="1.55" transform="rotate(3.34 152.6 420.4)" fill="#eec3aa" stroke="#2b2b2b" stroke-width="0.45"/>
<ellipse cx="156.6" cy="420.4" rx="2.3" ry="1.55" transform="rotate(-8.39 156.6 420.4)" fill="#eec3aa" stroke="#2b2b2b" stroke-width="0.45"/>
<ellipse cx="139.1" cy="424.4" rx="2.3" ry="1.55" transform="rotate(3.24 139.1 424.4)" fill="#eec3aa" stroke="#2b2b2b" stroke-width="0.45"/>
<ellipse cx="144.6" cy="424.4" rx="2.3" ry="1.55" transform="rotate(8.83 144.6 424.4)" fill="#eec3aa" stroke="#2b2b2b" stroke-width="0.45"/>
<ellipse cx="150.1" cy="424.4" rx="2.3" ry="1.55" transform="rotate(0.56 150.1 424.4)" fill="#eec3aa" stroke="#2b2b2b" stroke-width="0.45"/>
<ellipse cx="154.6" cy="424.4" rx="2.3" ry="1.55" transform="rotate(5.79 154.6 424.4)" fill="#eec3aa" stroke="#2b2b2b" stroke-width="0.45"/>
<ellipse cx="142.6" cy="427.7" rx="2.3" ry="1.55" transform="rotate(4.11 142.6 427.7)" fill="#eec3aa" stroke="#2b2b2b" stroke-width="0.45"/>
<ellipse cx="148.1" cy="427.7" rx="2.3" ry="1.55" transform="rotate(-10.46 148.1 427.7)" fill="#eec3aa" stroke="#2b2b2b" stroke-width="0.45"/>
</g>
<circle cx="145.6" cy="417.4" r="12" fill="none" stroke="#2a2c2e" stroke-width="0.8"/>
<circle cx="298.6" cy="347.4" r="0.5" fill="#777"/>
<rect x="30.3" y="451.8" width="23" height="14.5" fill="#5c5857" stroke="#2e2c2c" stroke-width="0.8"/>
<rect x="71.4" y="451.5" width="22.6" height="15.1" fill="#e2ab8e"/>
<rect x="112.6" y="451.5" width="22.4" height="15.1" fill="#b2b2b2"/>
<rect x="155" y="451.5" width="23" height="15.1" fill="#86e1f3"/>
<text x="56.6" y="465.8" font-family="Liberation Sans, Arial, sans-serif" font-size="12" fill="#111">1</text>
<text x="96.5" y="465.8" font-family="Liberation Sans, Arial, sans-serif" font-size="12" fill="#111">2</text>
<text x="139" y="465.8" font-family="Liberation Sans, Arial, sans-serif" font-size="12" fill="#111">3</text>
<text x="181.2" y="465.8" font-family="Liberation Sans, Arial, sans-serif" font-size="12" fill="#111">4</text>
<text x="229" y="465.8" font-family="Liberation Sans, Arial, sans-serif" font-size="12" fill="#111">5</text>
<path d="M196,456 C201,455 206,453.2 211,451 C216,453.2 221,455 225,455.6 C221,456.6 216,457 213.3,457.5 C212.9,462 212.5,466 211.8,470.4 C211,466 210,461 209.2,457.5 C205,457.3 200,456.9 196,456 Z" fill="#e2ab8e"/>
<line x1="366.5" y1="23.3" x2="366.5" y2="105.8" stroke="#6e6e6e" stroke-width="0.8"/>
<line x1="363.5" y1="103.5" x2="537.3" y2="103.5" stroke="#6e6e6e" stroke-width="0.8"/>
<text x="359" y="106.21" font-family="Liberation Serif, Times New Roman, serif" font-size="8.1" fill="#151515" stroke="#151515" stroke-width="0.18" text-anchor="end">0</text>
<text x="359" y="88.41" font-family="Liberation Serif, Times New Roman, serif" font-size="8.1" fill="#151515" stroke="#151515" stroke-width="0.18" text-anchor="end">2</text>
<text x="359" y="70.61" font-family="Liberation Serif, Times New Roman, serif" font-size="8.1" fill="#151515" stroke="#151515" stroke-width="0.18" text-anchor="end">4</text>
<text x="359" y="52.81" font-family="Liberation Serif, Times New Roman, serif" font-size="8.1" fill="#151515" stroke="#151515" stroke-width="0.18" text-anchor="end">6</text>
<text x="359" y="35.01" font-family="Liberation Serif, Times New Roman, serif" font-size="8.1" fill="#151515" stroke="#151515" stroke-width="0.18" text-anchor="end">8</text>
<path d="M366.5,103.5 h-2.2 M366.5,99.05 h-2.2 M366.5,94.6 h-2.2 M366.5,90.15 h-2.2 M366.5,85.7 h-2.2 M366.5,81.25 h-2.2 M366.5,76.8 h-2.2 M366.5,72.35 h-2.2 M366.5,67.9 h-2.2 M366.5,63.45 h-2.2 M366.5,59 h-2.2 M366.5,54.55 h-2.2 M366.5,50.1 h-2.2 M366.5,45.65 h-2.2 M366.5,41.2 h-2.2 M366.5,36.75 h-2.2 M366.5,32.3 h-2.2 M366.5,27.85 h-2.2 M366.5,23.4 h-2.2 M366.5,103.5 h-3.4 M366.5,85.7 h-3.4 M366.5,67.9 h-3.4 M366.5,50.1 h-3.4 M366.5,32.3 h-3.4" stroke="#6e6e6e" stroke-width="0.7" fill="none"/>
<path d="M366.5,103.5 v2.6 M376.18,103.5 v1.5 M381.84,103.5 v1.5 M385.86,103.5 v1.5 M388.97,103.5 v1.5 M391.52,103.5 v1.5 M393.67,103.5 v1.5 M395.53,103.5 v1.5 M397.18,103.5 v1.5 M398.65,103.5 v2.6 M408.33,103.5 v1.5 M413.99,103.5 v1.5 M418.01,103.5 v1.5 M421.12,103.5 v1.5 M423.67,103.5 v1.5 M425.82,103.5 v1.5 M427.68,103.5 v1.5 M429.33,103.5 v1.5 M430.8,103.5 v2.6 M440.48,103.5 v1.5 M446.14,103.5 v1.5 M450.16,103.5 v1.5 M453.27,103.5 v1.5 M455.82,103.5 v1.5 M457.97,103.5 v1.5 M459.83,103.5 v1.5 M461.48,103.5 v1.5 M462.95,103.5 v2.6 M472.63,103.5 v1.5 M478.29,103.5 v1.5 M482.31,103.5 v1.5 M485.42,103.5 v1.5 M487.97,103.5 v1.5 M490.12,103.5 v1.5 M491.98,103.5 v1.5 M493.63,103.5 v1.5 M495.1,103.5 v2.6 M504.78,103.5 v1.5 M510.44,103.5 v1.5 M514.46,103.5 v1.5 M517.57,103.5 v1.5 M520.12,103.5 v1.5 M522.27,103.5 v1.5 M524.13,103.5 v1.5 M525.78,103.5 v1.5 M527.25,103.5 v2.6 M536.93,103.5 v1.5" stroke="#6e6e6e" stroke-width="0.7" fill="none"/>
<text x="366.5" y="116.3" font-family="Liberation Serif, Times New Roman, serif" font-size="8.1" fill="#151515" stroke="#151515" stroke-width="0.18" text-anchor="middle">0.01</text>
<text x="430.8" y="116.3" font-family="Liberation Serif, Times New Roman, serif" font-size="8.1" fill="#151515" stroke="#151515" stroke-width="0.18" text-anchor="middle">1</text>
<text x="495.1" y="116.3" font-family="Liberation Serif, Times New Roman, serif" font-size="8.1" fill="#151515" stroke="#151515" stroke-width="0.18" text-anchor="middle">100</text>
<text x="439.4" y="15" font-family="Liberation Serif, Times New Roman, serif" font-size="10.3" fill="#151515" stroke="#151515" stroke-width="0.18" text-anchor="middle">Frequency curve W1-13</text>
<text x="343.6" y="67.3" font-family="Liberation Serif, Times New Roman, serif" font-size="8.65" fill="#151515" stroke="#151515" stroke-width="0.18" text-anchor="middle" transform="rotate(-90 343.6 67.3)">Volume (%)</text>
<polyline points="420.5,103.4 422.4,103.4 423.1,103.3 425,103.3 425.7,103.2 426.9,103.2 427.6,103.1 428.9,103.1 429.5,103 430.8,103 431.4,102.9 432.7,102.9 433.4,102.8 434,102.8 434.7,102.7 435.3,102.7 435.9,102.6 436.6,102.6 437.2,102.5 437.9,102.5 438.5,102.4 439.2,102.4 439.8,102.3 440.4,102.3 441.1,102.2 441.7,102.1 442.4,102.1 443,102 443.7,101.9 444.3,101.9 444.9,101.8 445.6,101.7 446.2,101.7 446.9,101.6 447.5,101.5 448.2,101.4 448.8,101.3 449.4,101.2 450.1,101.2 450.7,101.1 451.4,101 452,100.9 452.7,100.8 453.3,100.7 453.9,100.6 454.6,100.5 455.2,100.4 455.9,100.4 456.5,100.3 457.2,100.2 457.8,100.1 458.4,100 459.1,99.9 459.7,99.8 460.4,99.7 461,99.6 461.7,99.5 462.3,99.4 463,99.4 463.6,99.3 464.2,99.2 464.9,99.1 465.5,99 466.2,99 466.8,98.9 467.5,98.8 468.1,98.8 468.7,98.7 469.4,98.6 470,98.6 470.7,98.5 471.3,98.5 472,98.4 472.6,98.4 473.2,98.3 474.5,98.3 475.2,98.2 477.7,98.2 478.4,98.1 485.5,98.1 486.1,98 487.4,98 488,97.9 488.7,97.8 489.3,97.7 490,97.5 490.6,97.4 491.2,97.2 491.9,96.9 492.5,96.6 493.2,96.3 493.8,95.9 494.5,95.4 495.1,94.9 495.7,94.2 496.4,93.5 497,92.8 497.7,91.9 498.3,90.9 499,89.9 499.6,88.7 500.2,87.4 500.9,86.1 501.5,84.6 502.2,83 502.8,81.4 503.5,79.7 504.1,77.9 504.7,76 505.4,74.1 506,72.2 506.7,70.2 507.3,68.3 508,66.3 508.6,64.4 509.2,62.6 509.9,60.8 510.5,59.1 511.2,57.6 511.8,56.2 512.5,54.9 513.1,53.8 513.7,52.9 514.4,52.2 515,51.7 515.7,51.5 516.3,51.4 517,51.7 517.6,52.5 518.2,53.6 518.9,55.2 519.5,57.2 520.2,59.4 520.8,61.9 521.5,64.6 522.1,67.5 522.7,70.5 523.4,73.4 524,76.4 524.7,79.2 525.3,82 526,84.6 526.6,87 527.2,89.3 527.9,91.3 528.5,93.2 529.2,94.8 529.8,96.5 530.5,98.1 531.1,99.5 531.8,100.6 532.4,101.6 533,102.2 533.7,102.7 534.3,103.1 535,103.3 535.6,103.4 536.3,103.5 536.9,103.5" fill="none" stroke="#c0504d" stroke-width="1.2" stroke-linejoin="round" stroke-linecap="round"/>
<polyline points="422.4,103.4 423.1,103.4 423.7,103.3 426.3,103.3 426.9,103.2 428.2,103.2 428.9,103.1 430.2,103.1 430.8,103 432.1,103 432.7,102.9 434,102.9 434.7,102.8 435.3,102.8 435.9,102.7 437.2,102.7 437.9,102.6 438.5,102.6 439.2,102.5 439.8,102.4 440.4,102.4 441.1,102.3 441.7,102.3 442.4,102.2 443,102.1 443.7,102.1 444.3,102 444.9,101.9 445.6,101.8 446.2,101.8 446.9,101.7 447.5,101.6 448.2,101.5 448.8,101.4 449.4,101.3 450.1,101.3 450.7,101.2 451.4,101.1 452,101 452.7,100.9 453.3,100.8 453.9,100.7 454.6,100.6 455.2,100.5 455.9,100.4 456.5,100.3 457.2,100.2 457.8,100 458.4,99.9 459.1,99.8 459.7,99.7 460.4,99.6 461,99.5 461.7,99.4 462.3,99.3 463,99.2 463.6,99.1 464.2,99 464.9,98.9 465.5,98.8 466.2,98.7 466.8,98.6 467.5,98.5 468.1,98.4 468.7,98.3 469.4,98.2 470,98.1 470.7,98 471.3,98 472,97.9 472.6,97.8 473.2,97.7 473.9,97.7 474.5,97.6 475.2,97.6 475.8,97.5 476.5,97.5 477.1,97.4 478.4,97.4 479,97.3 481,97.3 481.6,97.2 484.2,97.2 484.8,97.1 486.1,97.1 486.7,97 487.4,96.9 488,96.8 488.7,96.7 489.3,96.5 490,96.3 490.6,96 491.2,95.7 491.9,95.3 492.5,94.8 493.2,94.2 493.8,93.4 494.5,92.6 495.1,91.6 495.7,90.5 496.4,89.2 497,87.7 497.7,86.1 498.3,84.2 499,82.3 499.6,80.1 500.2,77.8 500.9,75.3 501.5,72.7 502.2,70 502.8,67.2 503.5,64.4 504.1,61.6 504.7,58.8 505.4,56.2 506,53.6 506.7,51.2 507.3,49.1 508,47.2 508.6,45.6 509.2,44.4 509.9,43.5 510.5,43 511.2,42.9 511.8,43.4 512.5,44.5 513.1,46.3 513.7,48.8 514.4,51.7 515,55 515.7,58.7 516.3,62.6 517,66.5 517.6,70.5 518.2,74.4 518.9,78.1 519.5,81.5 520.2,84.8 520.8,88.3 521.5,91.6 522.1,94.6 522.7,97.1 523.4,99.1 524,100.7 524.7,101.8 525.3,102.6 526,103 526.6,103.3 527.2,103.5 536.9,103.5" fill="none" stroke="#4f81bd" stroke-width="1.2" stroke-linejoin="round" stroke-linecap="round"/>
<polyline points="421.2,103.4 423.1,103.4 423.7,103.3 425.7,103.3 426.3,103.2 428.2,103.2 428.9,103.1 430.8,103.1 431.4,103 432.7,103 433.4,102.9 434.7,102.9 435.3,102.8 435.9,102.8 436.6,102.7 437.9,102.7 438.5,102.6 439.2,102.6 439.8,102.5 440.4,102.5 441.1,102.4 441.7,102.4 442.4,102.3 443,102.3 443.7,102.2 444.3,102.1 444.9,102.1 445.6,102 446.2,102 446.9,101.9 447.5,101.8 448.2,101.8 448.8,101.7 449.4,101.6 450.1,101.6 450.7,101.5 451.4,101.4 452,101.3 452.7,101.3 453.3,101.2 453.9,101.1 454.6,101 455.2,101 455.9,100.9 456.5,100.8 457.2,100.7 457.8,100.6 458.4,100.6 459.1,100.5 459.7,100.4 460.4,100.3 461,100.3 461.7,100.2 462.3,100.1 463,100.1 463.6,100 464.2,99.9 464.9,99.8 465.5,99.8 466.2,99.7 466.8,99.7 467.5,99.6 468.1,99.5 468.7,99.5 469.4,99.4 470,99.4 470.7,99.3 472,99.3 472.6,99.2 473.9,99.2 474.5,99.1 477.1,99.1 477.7,99 484.2,99 484.8,98.9 486.1,98.9 486.7,98.8 487.4,98.8 488,98.7 488.7,98.6 489.3,98.5 490,98.3 490.6,98.1 491.2,97.9 491.9,97.7 492.5,97.4 493.2,97.1 493.8,96.7 494.5,96.2 495.1,95.7 495.7,95.1 496.4,94.5 497,93.8 497.7,93 498.3,92.1 499,91.1 499.6,90 500.2,88.9 500.9,87.6 501.5,86.3 502.2,84.9 502.8,83.4 503.5,81.8 504.1,80.2 504.7,78.5 505.4,76.8 506,75 506.7,73.2 507.3,71.4 508,69.6 508.6,67.8 509.2,66.1 509.9,64.4 510.5,62.8 511.2,61.3 511.8,59.9 512.5,58.6 513.1,57.5 513.7,56.5 514.4,55.7 515,55.1 515.7,54.7 516.3,54.4 517,54.4 517.6,54.6 518.2,55.3 518.9,56.4 519.5,57.9 520.2,59.8 520.8,61.9 521.5,64.3 522.1,66.8 522.7,69.5 523.4,72.3 524,75.1 524.7,77.9 525.3,80.6 526,83.2 526.6,85.7 527.2,88 527.9,90.1 528.5,92 529.2,93.8 529.8,95.6 530.5,97.4 531.1,98.9 531.8,100.2 532.4,101.3 533,102.1 533.7,102.6 534.3,103 535,103.3 535.6,103.4 536.3,103.5 536.9,103.5" fill="none" stroke="#9bbb59" stroke-width="1.2" stroke-linejoin="round" stroke-linecap="round"/>
<polyline points="419.2,103.4 421.2,103.4 421.8,103.3 423.1,103.3 423.7,103.2 425,103.2 425.7,103.1 426.9,103.1 427.6,103 428.2,103 428.9,102.9 429.5,102.9 430.2,102.8 430.8,102.8 431.4,102.7 432.1,102.7 432.7,102.6 433.4,102.6 434,102.5 434.7,102.5 435.3,102.4 435.9,102.4 436.6,102.3 437.2,102.2 437.9,102.2 438.5,102.1 439.2,102 439.8,101.9 440.4,101.9 441.1,101.8 441.7,101.7 442.4,101.6 443,101.5 443.7,101.4 444.3,101.3 444.9,101.2 445.6,101.1 446.2,101 446.9,100.9 447.5,100.8 448.2,100.7 448.8,100.6 449.4,100.5 450.1,100.4 450.7,100.3 451.4,100.2 452,100 452.7,99.9 453.3,99.8 453.9,99.7 454.6,99.6 455.2,99.4 455.9,99.3 456.5,99.2 457.2,99.1 457.8,98.9 458.4,98.8 459.1,98.7 459.7,98.6 460.4,98.4 461,98.3 461.7,98.2 462.3,98.1 463,98 463.6,97.9 464.2,97.8 464.9,97.7 465.5,97.6 466.2,97.5 466.8,97.4 467.5,97.3 468.1,97.2 468.7,97.1 469.4,97 470,96.9 470.7,96.8 471.3,96.8 472,96.7 472.6,96.6 473.2,96.6 473.9,96.5 474.5,96.5 475.2,96.4 476.5,96.4 477.1,96.3 478.4,96.3 479,96.2 481,96.2 481.6,96.1 482.2,96.1 482.9,96 483.5,96 484.2,95.9 484.8,95.8 485.5,95.8 486.1,95.6 486.7,95.5 487.4,95.4 488,95.2 488.7,95 489.3,94.7 490,94.4 490.6,94.1 491.2,93.8 491.9,93.3 492.5,92.9 493.2,92.3 493.8,91.7 494.5,91.1 495.1,90.4 495.7,89.6 496.4,88.7 497,87.8 497.7,86.8 498.3,85.7 499,84.6 499.6,83.4 500.2,82.1 500.9,80.8 501.5,79.4 502.2,78 502.8,76.5 503.5,75 504.1,73.5 504.7,72 505.4,70.5 506,69 506.7,67.5 507.3,66.1 508,64.8 508.6,63.5 509.2,62.3 509.9,61.2 510.5,60.2 511.2,59.3 511.8,58.5 512.5,57.9 513.1,57.5 513.7,57.2 514.4,57 515,57 515.7,57.3 516.3,57.9 517,58.9 517.6,60.2 518.2,61.8 518.9,63.7 519.5,65.7 520.2,68 520.8,70.4 521.5,72.9 522.1,75.4 522.7,77.9 523.4,80.3 524,82.7 524.7,85 525.3,87.2 526,89.2 526.6,91.1 527.2,92.8 527.9,94.3 528.5,95.7 529.2,96.9 529.8,98.2 530.5,99.3 531.1,100.4 531.8,101.3 532.4,102 533,102.5 533.7,102.9 534.3,103.2 535,103.3 535.6,103.4 536.3,103.5 536.9,103.5" fill="none" stroke="#8064a2" stroke-width="1.2" stroke-linejoin="round" stroke-linecap="round"/>
<polyline points="421.8,103.4 423.7,103.4 424.4,103.3 426.3,103.3 426.9,103.2 428.9,103.2 429.5,103.1 431.4,103.1 432.1,103 434,103 434.7,102.9 435.9,102.9 436.6,102.8 437.2,102.8 437.9,102.7 439.2,102.7 439.8,102.6 440.4,102.6 441.1,102.5 441.7,102.5 442.4,102.4 443,102.4 443.7,102.3 444.3,102.3 444.9,102.2 445.6,102.2 446.2,102.1 446.9,102.1 447.5,102 448.2,101.9 448.8,101.9 449.4,101.8 450.1,101.7 450.7,101.7 451.4,101.6 452,101.6 452.7,101.5 453.3,101.4 453.9,101.3 454.6,101.3 455.2,101.2 455.9,101.1 456.5,101.1 457.2,101 457.8,100.9 458.4,100.9 459.1,100.8 459.7,100.7 460.4,100.7 461,100.6 461.7,100.5 462.3,100.5 463,100.4 463.6,100.3 464.2,100.3 464.9,100.2 465.5,100.2 466.2,100.1 466.8,100 467.5,100 468.1,99.9 468.7,99.9 469.4,99.8 470.7,99.8 471.3,99.7 472.6,99.7 473.2,99.6 475.2,99.6 475.8,99.5 487.4,99.5 488,99.4 488.7,99.4 489.3,99.3 490,99.2 490.6,99.1 491.2,99 491.9,98.8 492.5,98.6 493.2,98.4 493.8,98.1 494.5,97.8 495.1,97.4 495.7,96.9 496.4,96.3 497,95.7 497.7,95 498.3,94.2 499,93.3 499.6,92.3 500.2,91.2 500.9,90 501.5,88.7 502.2,87.3 502.8,85.7 503.5,84.1 504.1,82.3 504.7,80.5 505.4,78.6 506,76.6 506.7,74.6 507.3,72.5 508,70.4 508.6,68.3 509.2,66.3 509.9,64.2 510.5,62.3 511.2,60.4 511.8,58.6 512.5,57 513.1,55.5 513.7,54.2 514.4,53.1 515,52.2 515.7,51.6 516.3,51.1 517,50.9 517.6,51 518.2,51.6 518.9,52.6 519.5,54.2 520.2,56.1 520.8,58.4 521.5,61 522.1,63.9 522.7,66.9 523.4,70.1 524,73.2 524.7,76.3 525.3,79.4 526,82.3 526.6,85 527.2,87.6 527.9,89.9 528.5,92 529.2,93.9 529.8,95.8 530.5,97.6 531.1,99.1 531.8,100.4 532.4,101.4 533,102.2 533.7,102.7 534.3,103.1 535,103.3 535.6,103.4 536.3,103.5 536.9,103.5" fill="none" stroke="#4bacc6" stroke-width="1.2" stroke-linejoin="round" stroke-linecap="round"/>
<polyline points="420.5,103.4 421.8,103.4 422.4,103.3 424.4,103.3 425,103.2 426.3,103.2 426.9,103.1 428.2,103.1 428.9,103 430.8,103 431.4,102.9 432.7,102.9 433.4,102.8 434.7,102.8 435.3,102.7 436.6,102.7 437.2,102.6 438.5,102.6 439.2,102.5 439.8,102.5 440.4,102.4 441.1,102.4 441.7,102.3 442.4,102.3 443,102.2 444.3,102.2 444.9,102.1 445.6,102 446.2,102 446.9,101.9 447.5,101.9 448.2,101.8 448.8,101.8 449.4,101.7 450.1,101.7 450.7,101.6 451.4,101.6 452,101.5 452.7,101.4 453.3,101.4 453.9,101.3 454.6,101.3 455.2,101.2 455.9,101.1 456.5,101.1 457.2,101 457.8,100.9 458.4,100.9 459.1,100.8 459.7,100.8 460.4,100.7 461,100.7 461.7,100.6 462.3,100.5 463,100.5 463.6,100.4 464.2,100.4 464.9,100.3 465.5,100.3 466.2,100.2 466.8,100.2 467.5,100.1 468.1,100.1 468.7,100 469.4,100 470,99.9 470.7,99.9 471.3,99.8 472.6,99.8 473.2,99.7 474.5,99.7 475.2,99.6 477.7,99.6 478.4,99.5 487.4,99.5 488,99.6 494.5,99.6 495.1,99.5 495.7,99.5 496.4,99.4 497,99.3 497.7,99.2 498.3,99 499,98.8 499.6,98.6 500.2,98.3 500.9,98 501.5,97.6 502.2,97.2 502.8,96.7 503.5,96.1 504.1,95.5 504.7,94.7 505.4,93.9 506,93 506.7,91.9 507.3,90.8 508,89.6 508.6,88.2 509.2,86.8 509.9,85.2 510.5,83.5 511.2,81.8 511.8,79.9 512.5,78 513.1,76 513.7,73.9 514.4,71.8 515,69.6 515.7,67.5 516.3,65.3 517,63.2 517.6,61.1 518.2,59.2 518.9,57.3 519.5,55.5 520.2,53.8 520.8,52.4 521.5,51.1 522.1,50 522.7,49.1 523.4,48.4 524,48 524.7,47.8 525.3,47.9 526,48.5 526.6,49.7 527.2,51.5 527.9,53.7 528.5,56.4 529.2,59.4 529.8,62.7 530.5,66.1 531.1,69.6 531.8,73.2 532.4,76.6 533,79.9 533.7,83 534.3,85.9 535,88.5 535.6,90.9 536.3,93 536.9,94.9" fill="none" stroke="#f3bf8a" stroke-width="1.2" stroke-linejoin="round" stroke-linecap="round"/>
<polyline points="435.3,103.3 439.8,103.3 440.4,103.2 443,103.2 443.7,103.1 445.6,103.1 446.2,103 448.2,103 448.8,102.9 450.1,102.9 450.7,102.8 452,102.8 452.7,102.7 453.9,102.7 454.6,102.6 455.2,102.6 455.9,102.5 457.2,102.5 457.8,102.4 459.1,102.4 459.7,102.3 460.4,102.3 461,102.2 462.3,102.2 463,102.1 463.6,102.1 464.2,102 465.5,102 466.2,101.9 467.5,101.9 468.1,101.8 469.4,101.8 470,101.7 472,101.7 472.6,101.6 477.1,101.6 477.7,101.5 480.3,101.5 481,101.6 485.5,101.6 486.1,101.7 488,101.7 488.7,101.8 490,101.8 490.6,101.9 495.1,101.9 495.7,101.8 496.4,101.8 497,101.6 497.7,101.4 498.3,101.2 499,100.8 499.6,100.3 500.2,99.7 500.9,98.9 501.5,97.9 502.2,96.7 502.8,95.2 503.5,93.4 504.1,91.2 504.7,88.7 505.4,85.9 506,82.7 506.7,79.1 507.3,75.1 508,70.8 508.6,66.3 509.2,61.6 509.9,56.8 510.5,52 511.2,47.3 511.8,42.8 512.5,38.7 513.1,35.1 513.7,32 514.4,29.6 515,28 515.7,27.2 516.3,27.2 517,28.4 517.6,30.6 518.2,33.7 518.9,37.7 519.5,42.4 520.2,47.5 520.8,53 521.5,58.6 522.1,64.1 522.7,69.7 523.4,75.7 524,81.7 524.7,87.3 525.3,92 526,95.8 526.6,98.6 527.2,100.6 527.9,102 528.5,102.8 529.2,103.3 529.8,103.5 536.9,103.5" fill="none" stroke="#2c4d75" stroke-width="1.35" stroke-linejoin="round" stroke-linecap="round"/>
<polyline points="432.1,103.4 432.7,103.4 433.4,103.3 436.6,103.3 437.2,103.2 439.8,103.2 440.4,103.1 442.4,103.1 443,103 444.3,103 444.9,102.9 446.2,102.9 446.9,102.8 448.2,102.8 448.8,102.7 449.4,102.7 450.1,102.6 450.7,102.6 451.4,102.5 452.7,102.5 453.3,102.4 453.9,102.4 454.6,102.3 455.2,102.3 455.9,102.2 456.5,102.1 457.2,102.1 457.8,102 458.4,102 459.1,101.9 459.7,101.9 460.4,101.8 461,101.8 461.7,101.7 462.3,101.7 463,101.6 463.6,101.6 464.2,101.5 464.9,101.5 465.5,101.4 466.2,101.4 466.8,101.3 467.5,101.3 468.1,101.2 468.7,101.2 469.4,101.1 470.7,101.1 471.3,101 472.6,101 473.2,100.9 476.5,100.9 477.1,100.8 481,100.8 481.6,100.9 484.8,100.9 485.5,101 486.7,101 487.4,101.1 488.7,101.1 489.3,101.2 490,101.2 490.6,101.3 491.9,101.3 492.5,101.4 495.1,101.4 495.7,101.3 496.4,101.2 497,101.1 497.7,100.9 498.3,100.7 499,100.3 499.6,99.9 500.2,99.3 500.9,98.5 501.5,97.5 502.2,96.4 502.8,94.9 503.5,93.2 504.1,91.2 504.7,88.9 505.4,86.2 506,83.2 506.7,79.8 507.3,76.1 508,72.1 508.6,67.8 509.2,63.4 509.9,58.8 510.5,54.3 511.2,49.8 511.8,45.4 512.5,41.4 513.1,37.8 513.7,34.7 514.4,32.1 515,30.3 515.7,29.1 516.3,28.8 517,29.3 517.6,30.9 518.2,33.3 518.9,36.7 519.5,40.7 520.2,45.3 520.8,50.3 521.5,55.5 522.1,60.9 522.7,66.3 523.4,72.4 524,78.8 524.7,84.7 525.3,89.9 526,94.2 526.6,97.5 527.2,99.9 527.9,101.6 528.5,102.6 529.2,103.2 529.8,103.4 530.5,103.5 536.9,103.5" fill="none" stroke="#772c2a" stroke-width="1.35" stroke-linejoin="round" stroke-linecap="round"/>
<polyline points="419.9,103.4 421.8,103.4 422.4,103.3 423.7,103.3 424.4,103.2 425.7,103.2 426.3,103.1 427.6,103.1 428.2,103 429.5,103 430.2,102.9 430.8,102.9 431.4,102.8 432.1,102.8 432.7,102.7 434,102.7 434.7,102.6 435.3,102.6 435.9,102.5 436.6,102.4 437.2,102.4 437.9,102.3 438.5,102.3 439.2,102.2 439.8,102.1 440.4,102.1 441.1,102 441.7,101.9 442.4,101.8 443,101.8 443.7,101.7 444.3,101.6 444.9,101.5 445.6,101.4 446.2,101.3 446.9,101.3 447.5,101.2 448.2,101.1 448.8,101 449.4,100.9 450.1,100.8 450.7,100.7 451.4,100.6 452,100.5 452.7,100.4 453.3,100.3 453.9,100.2 454.6,100 455.2,99.9 455.9,99.8 456.5,99.7 457.2,99.6 457.8,99.5 458.4,99.4 459.1,99.3 459.7,99.2 460.4,99.1 461,99 461.7,98.9 462.3,98.8 463,98.7 463.6,98.6 464.2,98.5 464.9,98.4 465.5,98.3 466.2,98.2 466.8,98.1 467.5,98 468.1,98 468.7,97.9 469.4,97.8 470,97.7 470.7,97.7 471.3,97.6 472,97.6 472.6,97.5 473.2,97.5 473.9,97.4 474.5,97.4 475.2,97.3 477.1,97.3 477.7,97.2 480.3,97.2 481,97.1 482.9,97.1 483.5,97 484.8,97 485.5,96.9 486.1,96.8 486.7,96.7 487.4,96.6 488,96.5 488.7,96.3 489.3,96.2 490,95.9 490.6,95.7 491.2,95.4 491.9,95 492.5,94.6 493.2,94.2 493.8,93.6 494.5,93.1 495.1,92.4 495.7,91.7 496.4,90.9 497,90 497.7,89.1 498.3,88 499,86.9 499.6,85.7 500.2,84.5 500.9,83.1 501.5,81.7 502.2,80.3 502.8,78.7 503.5,77.2 504.1,75.6 504.7,73.9 505.4,72.3 506,70.6 506.7,69 507.3,67.4 508,65.8 508.6,64.3 509.2,62.9 509.9,61.6 510.5,60.3 511.2,59.2 511.8,58.2 512.5,57.4 513.1,56.7 513.7,56.1 514.4,55.8 515,55.6 515.7,55.6 516.3,55.8 517,56.5 517.6,57.5 518.2,58.8 518.9,60.5 519.5,62.4 520.2,64.5 520.8,66.9 521.5,69.3 522.1,71.9 522.7,74.5 523.4,77.1 524,79.6 524.7,82.1 525.3,84.5 526,86.7 526.6,88.8 527.2,90.7 527.9,92.5 528.5,94.1 529.2,95.5 529.8,97 530.5,98.4 531.1,99.7 531.8,100.8 532.4,101.6 533,102.3 533.7,102.7 534.3,103.1 535,103.3 535.6,103.4 536.3,103.5 536.9,103.5" fill="none" stroke="#5f7530" stroke-width="1.2" stroke-linejoin="round" stroke-linecap="round"/>
<polyline points="419.9,103.4 421.8,103.4 422.4,103.3 423.7,103.3 424.4,103.2 425.7,103.2 426.3,103.1 427.6,103.1 428.2,103 428.9,103 429.5,102.9 430.2,102.9 430.8,102.8 432.1,102.8 432.7,102.7 433.4,102.7 434,102.6 434.7,102.5 435.3,102.5 435.9,102.4 436.6,102.4 437.2,102.3 437.9,102.2 438.5,102.2 439.2,102.1 439.8,102 440.4,101.9 441.1,101.8 441.7,101.7 442.4,101.6 443,101.6 443.7,101.5 444.3,101.4 444.9,101.2 445.6,101.1 446.2,101 446.9,100.9 447.5,100.8 448.2,100.7 448.8,100.5 449.4,100.4 450.1,100.3 450.7,100.2 451.4,100 452,99.9 452.7,99.7 453.3,99.6 453.9,99.5 454.6,99.3 455.2,99.2 455.9,99 456.5,98.9 457.2,98.7 457.8,98.6 458.4,98.4 459.1,98.3 459.7,98.1 460.4,97.9 461,97.8 461.7,97.6 462.3,97.5 463,97.3 463.6,97.2 464.2,97 464.9,96.9 465.5,96.7 466.2,96.6 466.8,96.5 467.5,96.3 468.1,96.2 468.7,96.1 469.4,95.9 470,95.8 470.7,95.7 471.3,95.6 472,95.5 472.6,95.4 473.2,95.2 473.9,95.1 474.5,95 475.2,95 475.8,94.9 476.5,94.8 477.1,94.7 477.7,94.6 478.4,94.5 479,94.4 479.7,94.4 480.3,94.3 481,94.2 481.6,94.1 482.2,94 482.9,93.8 483.5,93.7 484.2,93.6 484.8,93.4 485.5,93.2 486.1,93 486.7,92.8 487.4,92.5 488,92.2 488.7,91.9 489.3,91.5 490,91.1 490.6,90.6 491.2,90.1 491.9,89.5 492.5,88.8 493.2,88.1 493.8,87.4 494.5,86.5 495.1,85.6 495.7,84.6 496.4,83.6 497,82.5 497.7,81.3 498.3,80.1 499,78.8 499.6,77.5 500.2,76.1 500.9,74.7 501.5,73.3 502.2,71.8 502.8,70.4 503.5,68.9 504.1,67.5 504.7,66.1 505.4,64.8 506,63.5 506.7,62.3 507.3,61.1 508,60.1 508.6,59.2 509.2,58.3 509.9,57.7 510.5,57.1 511.2,56.7 511.8,56.5 512.5,56.4 513.1,56.4 513.7,56.7 514.4,57.4 515,58.4 515.7,59.7 516.3,61.3 517,63.2 517.6,65.3 518.2,67.5 518.9,69.9 519.5,72.4 520.2,74.9 520.8,77.4 521.5,79.9 522.1,82.2 522.7,84.5 523.4,86.7 524,88.7 524.7,90.6 525.3,92.3 526,93.8 526.6,95.2 527.2,96.4 527.9,97.5 528.5,98.4 529.2,99.2 529.8,100 530.5,100.8 531.1,101.4 531.8,102 532.4,102.4 533,102.8 533.7,103 534.3,103.2 535,103.4 535.6,103.4 536.3,103.5 536.9,103.5" fill="none" stroke="#6f6690" stroke-width="1.2" stroke-linejoin="round" stroke-linecap="round"/>
<polyline points="415.4,103.5 416,103.4 416.7,103.4 417.3,103.3 417.9,103.3 418.6,103.2 419.2,103.1 419.9,103 420.5,102.9 421.2,102.8 421.8,102.7 422.4,102.5 423.1,102.4 423.7,102.3 424.4,102.1 425,101.9 425.7,101.8 426.3,101.6 426.9,101.4 427.6,101.2 428.2,101 428.9,100.8 429.5,100.6 430.2,100.4 430.8,100.3 431.4,100.1 432.1,99.9 432.7,99.8 433.4,99.6 434,99.4 434.7,99.2 435.3,99.1 435.9,98.9 436.6,98.7 437.2,98.5 437.9,98.3 438.5,98.1 439.2,97.9 439.8,97.7 440.4,97.5 441.1,97.3 441.7,97.1 442.4,96.9 443,96.7 443.7,96.6 444.3,96.4 444.9,96.2 445.6,96 446.2,95.8 446.9,95.6 447.5,95.4 448.2,95.2 448.8,95.1 449.4,94.9 450.1,94.7 450.7,94.5 451.4,94.3 452,94.2 452.7,94 453.3,93.8 453.9,93.6 454.6,93.5 455.2,93.3 455.9,93.1 456.5,92.9 457.2,92.8 457.8,92.6 458.4,92.4 459.1,92.2 459.7,92.1 460.4,91.9 461,91.7 461.7,91.5 462.3,91.3 463,91.2 463.6,91 464.2,90.8 464.9,90.6 465.5,90.4 466.2,90.2 466.8,90.1 467.5,89.9 468.1,89.7 468.7,89.5 469.4,89.3 470,89.2 470.7,89 471.3,88.8 472,88.6 472.6,88.5 473.2,88.3 473.9,88.1 474.5,88 475.2,87.8 475.8,87.6 476.5,87.5 477.1,87.3 477.7,87.2 478.4,87.1 479,86.9 479.7,86.8 480.3,86.7 481,86.6 481.6,86.5 482.2,86.4 482.9,86.4 483.5,86.3 484.2,86.3 484.8,86.2 487.4,86.2 488,86.3 489.3,86.3 490,86.4 491.9,86.4 492.5,86.5 493.8,86.5 494.5,86.4 495.1,86.4 495.7,86.3 496.4,86.3 497,86.2 497.7,86.1 498.3,86 499,85.8 499.6,85.7 500.2,85.5 500.9,85.4 501.5,85.2 502.2,85.1 502.8,85 503.5,84.8 504.1,84.7 504.7,84.6 505.4,84.4 506,84.3 506.7,84.2 507.3,84.1 508,84.1 508.6,84 509.2,83.9 509.9,83.9 510.5,83.8 512.5,83.8 513.1,83.7 517.6,83.7 518.2,83.8 518.9,83.9 519.5,83.9 520.2,84.1 520.8,84.3 521.5,84.5 522.1,84.9 522.7,85.3 523.4,85.9 524,86.7 524.7,88 525.3,89.9 526,92.2 526.6,94.7 527.2,97 527.9,99.1 528.5,100.7 529.2,101.9 529.8,102.7 530.5,103.2 531.1,103.4 531.8,103.5 536.9,103.5" fill="none" stroke="#3f8796" stroke-width="1.2" stroke-linejoin="round" stroke-linecap="round"/>
<polyline points="416,103.5 416.7,103.4 417.3,103.4 417.9,103.3 418.6,103.3 419.2,103.2 419.9,103.2 420.5,103.1 421.2,103 421.8,103 422.4,102.9 423.1,102.8 423.7,102.7 424.4,102.6 425,102.5 425.7,102.4 426.3,102.3 426.9,102.2 427.6,102.1 428.2,101.9 428.9,101.8 429.5,101.7 430.2,101.6 430.8,101.5 431.4,101.4 432.1,101.3 432.7,101.2 433.4,101 434,100.9 434.7,100.8 435.3,100.7 435.9,100.5 436.6,100.4 437.2,100.2 437.9,100.1 438.5,99.9 439.2,99.8 439.8,99.6 440.4,99.4 441.1,99.3 441.7,99.1 442.4,98.9 443,98.7 443.7,98.5 444.3,98.3 444.9,98.1 445.6,97.9 446.2,97.7 446.9,97.5 447.5,97.3 448.2,97 448.8,96.8 449.4,96.6 450.1,96.4 450.7,96.1 451.4,95.9 452,95.6 452.7,95.4 453.3,95.1 453.9,94.9 454.6,94.6 455.2,94.4 455.9,94.1 456.5,93.9 457.2,93.6 457.8,93.4 458.4,93.1 459.1,92.9 459.7,92.6 460.4,92.3 461,92.1 461.7,91.8 462.3,91.6 463,91.3 463.6,91.1 464.2,90.9 464.9,90.6 465.5,90.4 466.2,90.1 466.8,89.9 467.5,89.7 468.1,89.5 468.7,89.3 469.4,89.1 470,88.9 470.7,88.7 471.3,88.5 472,88.3 472.6,88.1 473.2,88 473.9,87.8 474.5,87.7 475.2,87.5 475.8,87.4 476.5,87.3 477.1,87.2 477.7,87.1 478.4,87 479,86.9 479.7,86.8 480.3,86.7 481.6,86.7 482.2,86.6 486.1,86.6 486.7,86.7 488,86.7 488.7,86.8 489.3,86.8 490,86.9 490.6,87 491.2,87 491.9,87.1 493.2,87.1 493.8,87.2 495.1,87.2 495.7,87.1 496.4,87.1 497,87 497.7,86.8 498.3,86.7 499,86.4 499.6,86.2 500.2,85.9 500.9,85.5 501.5,85 502.2,84.6 502.8,84 503.5,83.4 504.1,82.8 504.7,82.1 505.4,81.4 506,80.7 506.7,79.9 507.3,79.2 508,78.4 508.6,77.7 509.2,77 509.9,76.3 510.5,75.7 511.2,75.2 511.8,74.8 512.5,74.5 513.1,74.3 513.7,74.2 514.4,74.3 515,74.5 515.7,74.8 516.3,75.4 517,76.1 517.6,77 518.2,78.1 518.9,79.3 519.5,80.7 520.2,82.1 520.8,83.5 521.5,85 522.1,86.5 522.7,88 523.4,89.9 524,92 524.7,94.1 525.3,96.2 526,98 526.6,99.6 527.2,100.9 527.9,101.9 528.5,102.6 529.2,103.1 529.8,103.4 530.5,103.5 536.9,103.5" fill="none" stroke="#b65708" stroke-width="1.2" stroke-linejoin="round" stroke-linecap="round"/>
<polyline points="373.6,103.5 423.1,103.5 423.7,103.4 427.6,103.4 428.2,103.3 430.8,103.3 431.4,103.2 432.7,103.2 433.4,103.1 434.7,103.1 435.3,103 435.9,103 436.6,102.9 437.2,102.9 437.9,102.8 438.5,102.8 439.2,102.7 439.8,102.7 440.4,102.6 441.1,102.5 441.7,102.4 442.4,102.3 443,102.3 443.7,102.2 444.3,102.1 444.9,101.9 445.6,101.8 446.2,101.7 446.9,101.6 447.5,101.4 448.2,101.3 448.8,101.1 449.4,101 450.1,100.8 450.7,100.6 451.4,100.4 452,100.3 452.7,100.1 453.3,99.8 453.9,99.6 454.6,99.4 455.2,99.2 455.9,98.9 456.5,98.7 457.2,98.4 457.8,98.1 458.4,97.9 459.1,97.6 459.7,97.3 460.4,97 461,96.7 461.7,96.4 462.3,96.1 463,95.8 463.6,95.4 464.2,95.1 464.9,94.8 465.5,94.4 466.2,94.1 466.8,93.8 467.5,93.4 468.1,93.1 468.7,92.7 469.4,92.4 470,92.1 470.7,91.7 471.3,91.4 472,91.1 472.6,90.7 473.2,90.4 473.9,90.1 474.5,89.8 475.2,89.5 475.8,89.2 476.5,89 477.1,88.7 477.7,88.5 478.4,88.2 479,88 479.7,87.8 480.3,87.6 481,87.4 481.6,87.3 482.2,87.1 482.9,87 483.5,86.9 484.2,86.8 484.8,86.7 485.5,86.6 486.7,86.6 487.4,86.5 489.3,86.5 490,86.6 491.9,86.6 492.5,86.5 493.2,86.5 493.8,86.4 494.5,86.2 495.1,86 495.7,85.7 496.4,85.3 497,84.8 497.7,84.2 498.3,83.4 499,82.6 499.6,81.6 500.2,80.5 500.9,79.2 501.5,77.9 502.2,76.4 502.8,74.8 503.5,73.3 504.1,71.6 504.7,70.1 505.4,68.5 506,67.1 506.7,65.9 507.3,64.8 508,64 508.6,63.4 509.2,63.1 509.9,63.1 510.5,63.4 511.2,64 511.8,64.9 512.5,65.9 513.1,67.2 513.7,68.7 514.4,70.4 515,72.2 515.7,74.1 516.3,76.1 517,78.1 517.6,80.1 518.2,82.1 518.9,84.1 519.5,86 520.2,87.8 520.8,89.4 521.5,91 522.1,92.5 522.7,93.8 523.4,95.3 524,96.8 524.7,98.3 525.3,99.5 526,100.6 526.6,101.5 527.2,102.2 527.9,102.7 528.5,103.1 529.2,103.3 529.8,103.5 536.9,103.5" fill="none" stroke="#729aca" stroke-width="1.2" stroke-linejoin="round" stroke-linecap="round"/>
<line x1="377.4" y1="30.2" x2="389.6" y2="30.2" stroke="#c0504d" stroke-width="1.3"/>
<text x="391" y="32.87" font-family="Liberation Serif, Times New Roman, serif" font-size="8.1" fill="#151515" stroke="#151515" stroke-width="0.18">W1</text>
<line x1="422.4" y1="30.2" x2="434.6" y2="30.2" stroke="#4f81bd" stroke-width="1.3"/>
<text x="435.8" y="32.87" font-family="Liberation Serif, Times New Roman, serif" font-size="8.1" fill="#151515" stroke="#151515" stroke-width="0.18">W2</text>
<line x1="377.4" y1="38.77" x2="389.6" y2="38.77" stroke="#9bbb59" stroke-width="1.3"/>
<text x="391" y="41.44" font-family="Liberation Serif, Times New Roman, serif" font-size="8.1" fill="#151515" stroke="#151515" stroke-width="0.18">W3</text>
<line x1="422.4" y1="38.77" x2="434.6" y2="38.77" stroke="#8064a2" stroke-width="1.3"/>
<text x="435.8" y="41.44" font-family="Liberation Serif, Times New Roman, serif" font-size="8.1" fill="#151515" stroke="#151515" stroke-width="0.18">W4</text>
<line x1="377.4" y1="47.34" x2="389.6" y2="47.34" stroke="#4bacc6" stroke-width="1.3"/>
<text x="391" y="50.01" font-family="Liberation Serif, Times New Roman, serif" font-size="8.1" fill="#151515" stroke="#151515" stroke-width="0.18">W5</text>
<line x1="422.4" y1="47.34" x2="434.6" y2="47.34" stroke="#f3bf8a" stroke-width="1.3"/>
<text x="435.8" y="50.01" font-family="Liberation Serif, Times New Roman, serif" font-size="8.1" fill="#151515" stroke="#151515" stroke-width="0.18">W6</text>
<line x1="377.4" y1="55.91" x2="389.6" y2="55.91" stroke="#2c4d75" stroke-width="1.45"/>
<text x="391" y="58.58" font-family="Liberation Serif, Times New Roman, serif" font-size="8.1" fill="#151515" stroke="#151515" stroke-width="0.18">W7</text>
<line x1="422.4" y1="55.91" x2="434.6" y2="55.91" stroke="#772c2a" stroke-width="1.45"/>
<text x="435.8" y="58.58" font-family="Liberation Serif, Times New Roman, serif" font-size="8.1" fill="#151515" stroke="#151515" stroke-width="0.18">W8</text>
<line x1="377.4" y1="64.48" x2="389.6" y2="64.48" stroke="#5f7530" stroke-width="1.3"/>
<text x="391" y="67.15" font-family="Liberation Serif, Times New Roman, serif" font-size="8.1" fill="#151515" stroke="#151515" stroke-width="0.18">W9</text>
<line x1="422.4" y1="64.48" x2="434.6" y2="64.48" stroke="#6f6690" stroke-width="1.3"/>
<text x="435.8" y="67.15" font-family="Liberation Serif, Times New Roman, serif" font-size="8.1" fill="#151515" stroke="#151515" stroke-width="0.18">W10</text>
<line x1="377.4" y1="73.05" x2="389.6" y2="73.05" stroke="#3f8796" stroke-width="1.3"/>
<text x="391" y="75.72" font-family="Liberation Serif, Times New Roman, serif" font-size="8.1" fill="#151515" stroke="#151515" stroke-width="0.18">W11</text>
<line x1="422.4" y1="73.05" x2="434.6" y2="73.05" stroke="#b65708" stroke-width="1.3"/>
<text x="435.8" y="75.72" font-family="Liberation Serif, Times New Roman, serif" font-size="8.1" fill="#151515" stroke="#151515" stroke-width="0.18">W12</text>
<line x1="377.4" y1="81.62" x2="389.6" y2="81.62" stroke="#729aca" stroke-width="1.3"/>
<text x="391" y="84.29" font-family="Liberation Serif, Times New Roman, serif" font-size="8.1" fill="#151515" stroke="#151515" stroke-width="0.18">W13</text>
<line x1="367.5" y1="138.9" x2="367.5" y2="217.7" stroke="#6e6e6e" stroke-width="0.8"/>
<line x1="364.5" y1="215.4" x2="537.6" y2="215.4" stroke="#6e6e6e" stroke-width="0.8"/>
<text x="360.3" y="218.11" font-family="Liberation Serif, Times New Roman, serif" font-size="8.1" fill="#151515" stroke="#151515" stroke-width="0.18" text-anchor="end">0</text>
<text x="360.3" y="202.81" font-family="Liberation Serif, Times New Roman, serif" font-size="8.1" fill="#151515" stroke="#151515" stroke-width="0.18" text-anchor="end">20</text>
<text x="360.3" y="187.51" font-family="Liberation Serif, Times New Roman, serif" font-size="8.1" fill="#151515" stroke="#151515" stroke-width="0.18" text-anchor="end">40</text>
<text x="360.3" y="172.21" font-family="Liberation Serif, Times New Roman, serif" font-size="8.1" fill="#151515" stroke="#151515" stroke-width="0.18" text-anchor="end">60</text>
<text x="360.3" y="156.91" font-family="Liberation Serif, Times New Roman, serif" font-size="8.1" fill="#151515" stroke="#151515" stroke-width="0.18" text-anchor="end">80</text>
<text x="360.3" y="141.61" font-family="Liberation Serif, Times New Roman, serif" font-size="8.1" fill="#151515" stroke="#151515" stroke-width="0.18" text-anchor="end">100</text>
<path d="M367.5,215.4 h-3.4 M367.5,200.1 h-3.4 M367.5,184.8 h-3.4 M367.5,169.5 h-3.4 M367.5,154.2 h-3.4 M367.5,138.9 h-3.4" stroke="#6e6e6e" stroke-width="0.7" fill="none"/>
<path d="M367.5,215.4 v2.6 M377.74,215.4 v1.5 M383.74,215.4 v1.5 M387.99,215.4 v1.5 M391.29,215.4 v1.5 M393.98,215.4 v1.5 M396.26,215.4 v1.5 M398.23,215.4 v1.5 M399.97,215.4 v1.5 M401.53,215.4 v2.6 M411.77,215.4 v1.5 M417.77,215.4 v1.5 M422.02,215.4 v1.5 M425.32,215.4 v1.5 M428.01,215.4 v1.5 M430.29,215.4 v1.5 M432.26,215.4 v1.5 M434,215.4 v1.5 M435.56,215.4 v2.6 M445.8,215.4 v1.5 M451.8,215.4 v1.5 M456.05,215.4 v1.5 M459.35,215.4 v1.5 M462.04,215.4 v1.5 M464.32,215.4 v1.5 M466.29,215.4 v1.5 M468.03,215.4 v1.5 M469.59,215.4 v2.6 M479.83,215.4 v1.5 M485.83,215.4 v1.5 M490.08,215.4 v1.5 M493.38,215.4 v1.5 M496.07,215.4 v1.5 M498.35,215.4 v1.5 M500.32,215.4 v1.5 M502.06,215.4 v1.5 M503.62,215.4 v2.6 M513.86,215.4 v1.5 M519.86,215.4 v1.5 M524.11,215.4 v1.5 M527.41,215.4 v1.5 M530.1,215.4 v1.5 M532.38,215.4 v1.5 M534.35,215.4 v1.5 M536.09,215.4 v1.5 M537.65,215.4 v2.6" stroke="#6e6e6e" stroke-width="0.7" fill="none"/>
<text x="367.5" y="228" font-family="Liberation Serif, Times New Roman, serif" font-size="8.1" fill="#151515" stroke="#151515" stroke-width="0.18" text-anchor="middle">0.01</text>
<text x="401.53" y="228" font-family="Liberation Serif, Times New Roman, serif" font-size="8.1" fill="#151515" stroke="#151515" stroke-width="0.18" text-anchor="middle">0.1</text>
<text x="435.56" y="228" font-family="Liberation Serif, Times New Roman, serif" font-size="8.1" fill="#151515" stroke="#151515" stroke-width="0.18" text-anchor="middle">1</text>
<text x="469.59" y="228" font-family="Liberation Serif, Times New Roman, serif" font-size="8.1" fill="#151515" stroke="#151515" stroke-width="0.18" text-anchor="middle">10</text>
<text x="503.62" y="228" font-family="Liberation Serif, Times New Roman, serif" font-size="8.1" fill="#151515" stroke="#151515" stroke-width="0.18" text-anchor="middle">100</text>
<text x="537.65" y="228" font-family="Liberation Serif, Times New Roman, serif" font-size="8.1" fill="#151515" stroke="#151515" stroke-width="0.18" text-anchor="middle">1000</text>
<text x="443.6" y="128" font-family="Liberation Serif, Times New Roman, serif" font-size="10.2" fill="#151515" stroke="#151515" stroke-width="0.18" text-anchor="middle">Undersize curve W1-13</text>
<text x="346.2" y="172.95" font-family="Liberation Serif, Times New Roman, serif" font-size="8.45" fill="#151515" stroke="#151515" stroke-width="0.18" text-anchor="middle" transform="rotate(-90 346.2 172.95)">Volume (%)</text>
<polyline points="434.2,215.2 436.9,215.2 437.6,215.1 439.6,215.1 440.3,215 441.7,215 442.4,214.9 443.7,214.9 444.4,214.8 445.1,214.8 445.8,214.7 446.4,214.7 447.1,214.6 447.8,214.6 448.5,214.5 449.2,214.5 449.9,214.4 450.5,214.3 451.2,214.3 451.9,214.2 452.6,214.1 453.3,214.1 453.9,214 454.6,213.9 455.3,213.8 456,213.7 456.7,213.6 457.3,213.6 458,213.5 458.7,213.4 459.4,213.3 460.1,213.2 460.7,213 461.4,212.9 462.1,212.8 462.8,212.7 463.5,212.6 464.1,212.4 464.8,212.3 465.5,212.2 466.2,212 466.9,211.9 467.5,211.8 468.2,211.6 468.9,211.5 469.6,211.3 470.3,211.2 471,211 471.6,210.8 472.3,210.7 473,210.5 473.7,210.3 474.4,210.2 475,210 475.7,209.8 476.4,209.6 477.1,209.4 477.8,209.3 478.4,209.1 479.1,208.9 479.8,208.7 480.5,208.5 481.2,208.3 481.8,208.1 482.5,207.9 483.2,207.7 483.9,207.5 484.6,207.3 485.2,207.1 485.9,206.9 486.6,206.7 487.3,206.5 488,206.3 488.6,206.1 489.3,205.9 490,205.7 490.7,205.6 491.4,205.4 492,205.2 492.7,205 493.4,204.8 494.1,204.5 494.8,204.3 495.5,204.1 496.1,203.9 496.8,203.7 497.5,203.5 498.2,203.3 498.9,203.1 499.5,202.8 500.2,202.6 500.9,202.3 501.6,202.1 502.3,201.8 502.9,201.5 503.6,201.2 504.3,200.8 505,200.5 505.7,200.1 506.3,199.6 507,199.2 507.7,198.7 508.4,198.1 509.1,197.5 509.7,196.9 510.4,196.2 511.1,195.4 511.8,194.6 512.5,193.7 513.1,192.8 513.8,191.8 514.5,190.7 515.2,189.5 515.9,188.3 516.6,187 517.2,185.6 517.9,184.2 518.6,182.7 519.3,181.1 520,179.4 520.6,177.8 521.3,176 522,174.2 522.7,172.4 523.4,170.5 524,168.6 524.7,166.7 525.4,164.8 526.1,162.9 526.8,160.9 527.4,159.1 528.1,157.2 528.8,155.4 529.5,153.7 530.2,152.1 530.8,150.6 531.5,149.1 532.2,147.8 532.9,146.6 533.6,145.5 534.2,144.5 534.9,143.6 535.6,142.8 536.3,142.1 537,141.5" fill="none" stroke="#c0504d" stroke-width="1.2" stroke-linejoin="round" stroke-linecap="round"/>
<polyline points="434.9,215.3 435.6,215.2 438.3,215.2 439,215.1 441,215.1 441.7,215 443,215 443.7,214.9 444.4,214.9 445.1,214.8 446.4,214.8 447.1,214.7 447.8,214.7 448.5,214.6 449.2,214.6 449.9,214.5 450.5,214.4 451.2,214.4 451.9,214.3 452.6,214.2 453.3,214.2 453.9,214.1 454.6,214 455.3,213.9 456,213.9 456.7,213.8 457.3,213.7 458,213.6 458.7,213.5 459.4,213.4 460.1,213.3 460.7,213.2 461.4,213 462.1,212.9 462.8,212.8 463.5,212.7 464.1,212.5 464.8,212.4 465.5,212.3 466.2,212.1 466.9,212 467.5,211.8 468.2,211.7 468.9,211.5 469.6,211.4 470.3,211.2 471,211 471.6,210.8 472.3,210.7 473,210.5 473.7,210.3 474.4,210.1 475,209.9 475.7,209.7 476.4,209.5 477.1,209.3 477.8,209.1 478.4,208.9 479.1,208.7 479.8,208.5 480.5,208.3 481.2,208 481.8,207.8 482.5,207.6 483.2,207.4 483.9,207.1 484.6,206.9 485.2,206.7 485.9,206.4 486.6,206.2 487.3,206 488,205.7 488.6,205.5 489.3,205.3 490,205 490.7,204.8 491.4,204.6 492,204.3 492.7,204.1 493.4,203.8 494.1,203.6 494.8,203.3 495.5,203.1 496.1,202.8 496.8,202.6 497.5,202.3 498.2,202.1 498.9,201.8 499.5,201.5 500.2,201.2 500.9,200.8 501.6,200.5 502.3,200.1 502.9,199.7 503.6,199.2 504.3,198.8 505,198.2 505.7,197.6 506.3,197 507,196.2 507.7,195.4 508.4,194.5 509.1,193.6 509.7,192.5 510.4,191.3 511.1,190.1 511.8,188.7 512.5,187.2 513.1,185.7 513.8,184 514.5,182.2 515.2,180.3 515.9,178.3 516.6,176.3 517.2,174.1 517.9,172 518.6,169.7 519.3,167.5 520,165.2 520.6,162.9 521.3,160.6 522,158.4 522.7,156.2 523.4,154.2 524,152.2 524.7,150.4 525.4,148.7 526.1,147.1 526.8,145.7 527.4,144.5 528.1,143.4 528.8,142.4 529.5,141.6 530.2,140.9 530.8,140.3 531.5,139.9 532.2,139.5 532.9,139.3 533.6,139.1 534.2,139 534.9,139 535.6,138.9 537,138.9" fill="none" stroke="#4f81bd" stroke-width="1.2" stroke-linejoin="round" stroke-linecap="round"/>
<polyline points="434.9,215.2 437.6,215.2 438.3,215.1 440.3,215.1 441,215 442.4,215 443,214.9 444.4,214.9 445.1,214.8 446.4,214.8 447.1,214.7 447.8,214.7 448.5,214.6 449.2,214.6 449.9,214.5 450.5,214.5 451.2,214.4 451.9,214.3 452.6,214.3 453.3,214.2 453.9,214.1 454.6,214.1 455.3,214 456,213.9 456.7,213.8 457.3,213.8 458,213.7 458.7,213.6 459.4,213.5 460.1,213.4 460.7,213.3 461.4,213.2 462.1,213.1 462.8,213 463.5,212.9 464.1,212.8 464.8,212.6 465.5,212.5 466.2,212.4 466.9,212.3 467.5,212.2 468.2,212 468.9,211.9 469.6,211.8 470.3,211.6 471,211.5 471.6,211.3 472.3,211.2 473,211 473.7,210.9 474.4,210.7 475,210.6 475.7,210.4 476.4,210.3 477.1,210.1 477.8,209.9 478.4,209.8 479.1,209.6 479.8,209.4 480.5,209.3 481.2,209.1 481.8,208.9 482.5,208.7 483.2,208.6 483.9,208.4 484.6,208.2 485.2,208 485.9,207.9 486.6,207.7 487.3,207.5 488,207.3 488.6,207.1 489.3,207 490,206.8 490.7,206.6 491.4,206.4 492,206.3 492.7,206.1 493.4,205.9 494.1,205.7 494.8,205.5 495.5,205.3 496.1,205.1 496.8,205 497.5,204.8 498.2,204.5 498.9,204.3 499.5,204.1 500.2,203.9 500.9,203.6 501.6,203.4 502.3,203.1 502.9,202.8 503.6,202.5 504.3,202.2 505,201.8 505.7,201.5 506.3,201 507,200.6 507.7,200.1 508.4,199.6 509.1,199 509.7,198.4 510.4,197.7 511.1,197 511.8,196.2 512.5,195.3 513.1,194.4 513.8,193.4 514.5,192.3 515.2,191.2 515.9,190 516.6,188.7 517.2,187.4 517.9,186 518.6,184.5 519.3,183 520,181.4 520.6,179.7 521.3,178 522,176.2 522.7,174.4 523.4,172.5 524,170.6 524.7,168.7 525.4,166.8 526.1,164.9 526.8,162.9 527.4,161 528.1,159.1 528.8,157.2 529.5,155.4 530.2,153.7 530.8,152.1 531.5,150.5 532.2,149.1 532.9,147.7 533.6,146.5 534.2,145.4 534.9,144.4 535.6,143.5 536.3,142.7 537,141.9" fill="none" stroke="#9bbb59" stroke-width="1.2" stroke-linejoin="round" stroke-linecap="round"/>
<polyline points="432.2,215.3 432.8,215.2 435.6,215.2 436.2,215.1 437.6,215.1 438.3,215 439.6,215 440.3,214.9 441,214.9 441.7,214.8 442.4,214.8 443,214.7 443.7,214.7 444.4,214.6 445.1,214.6 445.8,214.5 446.4,214.5 447.1,214.4 447.8,214.3 448.5,214.3 449.2,214.2 449.9,214.1 450.5,214 451.2,214 451.9,213.9 452.6,213.8 453.3,213.7 453.9,213.6 454.6,213.5 455.3,213.4 456,213.3 456.7,213.1 457.3,213 458,212.9 458.7,212.8 459.4,212.6 460.1,212.5 460.7,212.4 461.4,212.2 462.1,212.1 462.8,211.9 463.5,211.7 464.1,211.6 464.8,211.4 465.5,211.2 466.2,211.1 466.9,210.9 467.5,210.7 468.2,210.5 468.9,210.3 469.6,210.1 470.3,209.9 471,209.7 471.6,209.5 472.3,209.3 473,209.1 473.7,208.9 474.4,208.6 475,208.4 475.7,208.2 476.4,208 477.1,207.7 477.8,207.5 478.4,207.2 479.1,207 479.8,206.7 480.5,206.5 481.2,206.3 481.8,206 482.5,205.8 483.2,205.5 483.9,205.2 484.6,205 485.2,204.7 485.9,204.5 486.6,204.2 487.3,204 488,203.7 488.6,203.4 489.3,203.2 490,202.9 490.7,202.6 491.4,202.4 492,202.1 492.7,201.8 493.4,201.5 494.1,201.3 494.8,201 495.5,200.7 496.1,200.4 496.8,200.1 497.5,199.8 498.2,199.4 498.9,199.1 499.5,198.8 500.2,198.4 500.9,198 501.6,197.6 502.3,197.2 502.9,196.8 503.6,196.3 504.3,195.8 505,195.3 505.7,194.7 506.3,194.1 507,193.5 507.7,192.8 508.4,192.1 509.1,191.3 509.7,190.5 510.4,189.6 511.1,188.7 511.8,187.8 512.5,186.7 513.1,185.7 513.8,184.5 514.5,183.4 515.2,182.1 515.9,180.8 516.6,179.5 517.2,178.1 517.9,176.7 518.6,175.2 519.3,173.7 520,172.1 520.6,170.6 521.3,169 522,167.3 522.7,165.7 523.4,164 524,162.4 524.7,160.7 525.4,159.1 526.1,157.4 526.8,155.8 527.4,154.3 528.1,152.8 528.8,151.4 529.5,150 530.2,148.8 530.8,147.6 531.5,146.5 532.2,145.5 532.9,144.6 533.6,143.7 534.2,143 534.9,142.3 535.6,141.7 536.3,141.2 537,140.8" fill="none" stroke="#8064a2" stroke-width="1.2" stroke-linejoin="round" stroke-linecap="round"/>
<polyline points="434.9,215.3 435.6,215.2 438.3,215.2 439,215.1 441,215.1 441.7,215 443.7,215 444.4,214.9 445.8,214.9 446.4,214.8 447.1,214.8 447.8,214.7 448.5,214.7 449.2,214.6 449.9,214.6 450.5,214.5 451.2,214.5 451.9,214.4 452.6,214.4 453.3,214.3 453.9,214.3 454.6,214.2 455.3,214.1 456,214.1 456.7,214 457.3,213.9 458,213.8 458.7,213.7 459.4,213.7 460.1,213.6 460.7,213.5 461.4,213.4 462.1,213.3 462.8,213.2 463.5,213.1 464.1,213 464.8,212.9 465.5,212.8 466.2,212.7 466.9,212.6 467.5,212.5 468.2,212.3 468.9,212.2 469.6,212.1 470.3,212 471,211.8 471.6,211.7 472.3,211.6 473,211.4 473.7,211.3 474.4,211.2 475,211 475.7,210.9 476.4,210.7 477.1,210.6 477.8,210.4 478.4,210.3 479.1,210.1 479.8,210 480.5,209.8 481.2,209.7 481.8,209.5 482.5,209.3 483.2,209.2 483.9,209 484.6,208.9 485.2,208.7 485.9,208.6 486.6,208.4 487.3,208.2 488,208.1 488.6,207.9 489.3,207.8 490,207.6 490.7,207.4 491.4,207.3 492,207.1 492.7,207 493.4,206.8 494.1,206.6 494.8,206.5 495.5,206.3 496.1,206.2 496.8,206 497.5,205.8 498.2,205.7 498.9,205.5 499.5,205.3 500.2,205.1 500.9,204.9 501.6,204.7 502.3,204.5 502.9,204.3 503.6,204 504.3,203.8 505,203.5 505.7,203.2 506.3,202.8 507,202.5 507.7,202.1 508.4,201.6 509.1,201.1 509.7,200.6 510.4,200 511.1,199.3 511.8,198.6 512.5,197.9 513.1,197 513.8,196.1 514.5,195.1 515.2,194 515.9,192.9 516.6,191.6 517.2,190.3 517.9,188.9 518.6,187.4 519.3,185.9 520,184.2 520.6,182.5 521.3,180.7 522,178.9 522.7,177 523.4,175 524,173 524.7,170.9 525.4,168.9 526.1,166.8 526.8,164.7 527.4,162.6 528.1,160.5 528.8,158.5 529.5,156.5 530.2,154.6 530.8,152.9 531.5,151.2 532.2,149.6 532.9,148.1 533.6,146.8 534.2,145.6 534.9,144.5 535.6,143.5 536.3,142.7 537,142" fill="none" stroke="#4bacc6" stroke-width="1.2" stroke-linejoin="round" stroke-linecap="round"/>
<polyline points="433.5,215.2 436.2,215.2 436.9,215.1 439,215.1 439.6,215 441.7,215 442.4,214.9 443.7,214.9 444.4,214.8 445.1,214.8 445.8,214.7 447.1,214.7 447.8,214.6 448.5,214.6 449.2,214.5 449.9,214.5 450.5,214.4 451.2,214.4 451.9,214.3 452.6,214.3 453.3,214.2 453.9,214.1 454.6,214.1 455.3,214 456,213.9 456.7,213.9 457.3,213.8 458,213.7 458.7,213.6 459.4,213.6 460.1,213.5 460.7,213.4 461.4,213.3 462.1,213.2 462.8,213.1 463.5,213 464.1,212.9 464.8,212.9 465.5,212.8 466.2,212.7 466.9,212.5 467.5,212.4 468.2,212.3 468.9,212.2 469.6,212.1 470.3,212 471,211.9 471.6,211.8 472.3,211.6 473,211.5 473.7,211.4 474.4,211.3 475,211.1 475.7,211 476.4,210.9 477.1,210.8 477.8,210.6 478.4,210.5 479.1,210.3 479.8,210.2 480.5,210.1 481.2,209.9 481.8,209.8 482.5,209.6 483.2,209.5 483.9,209.4 484.6,209.2 485.2,209.1 485.9,208.9 486.6,208.8 487.3,208.6 488,208.5 488.6,208.3 489.3,208.2 490,208 490.7,207.9 491.4,207.7 492,207.6 492.7,207.4 493.4,207.3 494.1,207.1 494.8,207 495.5,206.9 496.1,206.7 496.8,206.6 497.5,206.4 498.2,206.3 498.9,206.1 499.5,206 500.2,205.8 500.9,205.7 501.6,205.6 502.3,205.4 502.9,205.3 503.6,205.1 504.3,205 505,204.8 505.7,204.7 506.3,204.5 507,204.3 507.7,204.2 508.4,204 509.1,203.8 509.7,203.6 510.4,203.4 511.1,203.1 511.8,202.9 512.5,202.6 513.1,202.3 513.8,202 514.5,201.6 515.2,201.2 515.9,200.8 516.6,200.3 517.2,199.8 517.9,199.3 518.6,198.6 519.3,198 520,197.2 520.6,196.4 521.3,195.5 522,194.6 522.7,193.6 523.4,192.5 524,191.3 524.7,190.1 525.4,188.7 526.1,187.3 526.8,185.8 527.4,184.3 528.1,182.6 528.8,180.9 529.5,179.1 530.2,177.3 530.8,175.4 531.5,173.4 532.2,171.5 532.9,169.5 533.6,167.4 534.2,165.4 534.9,163.3 535.6,161.2 536.3,159.2 537,157.2" fill="none" stroke="#f79646" stroke-width="1.2" stroke-linejoin="round" stroke-linecap="round"/>
<polyline points="446.4,215.2 450.5,215.2 451.2,215.1 453.9,215.1 454.6,215 456,215 456.7,214.9 458.7,214.9 459.4,214.8 460.1,214.8 460.7,214.7 462.1,214.7 462.8,214.6 463.5,214.6 464.1,214.5 464.8,214.5 465.5,214.4 466.2,214.4 466.9,214.3 467.5,214.3 468.2,214.2 468.9,214.2 469.6,214.1 470.3,214 471,214 471.6,213.9 472.3,213.9 473,213.8 473.7,213.7 474.4,213.6 475,213.6 475.7,213.5 476.4,213.4 477.1,213.4 477.8,213.3 478.4,213.2 479.1,213.1 479.8,213 480.5,213 481.2,212.9 481.8,212.8 482.5,212.7 483.2,212.6 483.9,212.6 484.6,212.5 485.2,212.4 485.9,212.3 486.6,212.2 487.3,212.1 488,212.1 488.6,212 489.3,211.9 490,211.8 490.7,211.7 491.4,211.6 492,211.6 492.7,211.5 493.4,211.4 494.1,211.3 494.8,211.2 495.5,211.2 496.1,211.1 496.8,211 497.5,210.9 498.2,210.9 498.9,210.8 499.5,210.7 500.2,210.7 500.9,210.6 501.6,210.5 502.3,210.5 502.9,210.4 503.6,210.3 504.3,210.3 505,210.2 505.7,210.1 506.3,210 507,209.9 507.7,209.8 508.4,209.7 509.1,209.5 509.7,209.3 510.4,209.1 511.1,208.8 511.8,208.4 512.5,208 513.1,207.5 513.8,206.8 514.5,206.1 515.2,205.2 515.9,204.1 516.6,202.9 517.2,201.5 517.9,199.9 518.6,198.2 519.3,196.2 520,194 520.6,191.6 521.3,189 522,186.2 522.7,183.3 523.4,180.2 524,177.1 524.7,173.8 525.4,170.6 526.1,167.3 526.8,164.1 527.4,161 528.1,158 528.8,155.2 529.5,152.6 530.2,150.2 530.8,148 531.5,146.1 532.2,144.4 532.9,143 533.6,141.8 534.2,140.9 534.9,140.2 535.6,139.7 536.3,139.3 537,139.1" fill="none" stroke="#2c4d75" stroke-width="1.35" stroke-linejoin="round" stroke-linecap="round"/>
<polyline points="443.7,215.3 444.4,215.2 447.8,215.2 448.5,215.1 451.2,215.1 451.9,215 453.3,215 453.9,214.9 455.3,214.9 456,214.8 457.3,214.8 458,214.7 458.7,214.7 459.4,214.6 460.1,214.6 460.7,214.5 461.4,214.5 462.1,214.4 462.8,214.4 463.5,214.3 464.1,214.2 464.8,214.2 465.5,214.1 466.2,214.1 466.9,214 467.5,213.9 468.2,213.8 468.9,213.8 469.6,213.7 470.3,213.6 471,213.5 471.6,213.4 472.3,213.3 473,213.3 473.7,213.2 474.4,213.1 475,213 475.7,212.9 476.4,212.8 477.1,212.7 477.8,212.6 478.4,212.5 479.1,212.4 479.8,212.3 480.5,212.2 481.2,212.1 481.8,211.9 482.5,211.8 483.2,211.7 483.9,211.6 484.6,211.5 485.2,211.4 485.9,211.3 486.6,211.2 487.3,211.1 488,211 488.6,210.8 489.3,210.7 490,210.6 490.7,210.5 491.4,210.4 492,210.3 492.7,210.2 493.4,210.1 494.1,210 494.8,209.9 495.5,209.8 496.1,209.7 496.8,209.6 497.5,209.5 498.2,209.4 498.9,209.3 499.5,209.2 500.2,209.1 500.9,209 501.6,208.9 502.3,208.8 502.9,208.8 503.6,208.7 504.3,208.6 505,208.5 505.7,208.4 506.3,208.3 507,208.2 507.7,208 508.4,207.9 509.1,207.7 509.7,207.5 510.4,207.2 511.1,207 511.8,206.6 512.5,206.2 513.1,205.7 513.8,205 514.5,204.3 515.2,203.5 515.9,202.5 516.6,201.4 517.2,200 517.9,198.6 518.6,196.9 519.3,195 520,193 520.6,190.7 521.3,188.3 522,185.7 522.7,183 523.4,180.1 524,177.2 524.7,174.1 525.4,171 526.1,167.9 526.8,164.8 527.4,161.8 528.1,158.9 528.8,156.1 529.5,153.5 530.2,151 530.8,148.8 531.5,146.8 532.2,145 532.9,143.5 533.6,142.2 534.2,141.2 534.9,140.4 535.6,139.8 536.3,139.4 537,139.2" fill="none" stroke="#772c2a" stroke-width="1.35" stroke-linejoin="round" stroke-linecap="round"/>
<polyline points="432.8,215.3 433.5,215.2 436.2,215.2 436.9,215.1 438.3,215.1 439,215 440.3,215 441,214.9 442.4,214.9 443,214.8 443.7,214.8 444.4,214.7 445.1,214.7 445.8,214.6 446.4,214.6 447.1,214.5 447.8,214.4 448.5,214.4 449.2,214.3 449.9,214.3 450.5,214.2 451.2,214.1 451.9,214 452.6,213.9 453.3,213.9 453.9,213.8 454.6,213.7 455.3,213.6 456,213.5 456.7,213.4 457.3,213.3 458,213.2 458.7,213 459.4,212.9 460.1,212.8 460.7,212.7 461.4,212.5 462.1,212.4 462.8,212.3 463.5,212.1 464.1,212 464.8,211.8 465.5,211.7 466.2,211.5 466.9,211.4 467.5,211.2 468.2,211 468.9,210.9 469.6,210.7 470.3,210.5 471,210.3 471.6,210.1 472.3,209.9 473,209.7 473.7,209.5 474.4,209.3 475,209.1 475.7,208.9 476.4,208.7 477.1,208.5 477.8,208.3 478.4,208.1 479.1,207.9 479.8,207.7 480.5,207.4 481.2,207.2 481.8,207 482.5,206.8 483.2,206.5 483.9,206.3 484.6,206.1 485.2,205.9 485.9,205.6 486.6,205.4 487.3,205.2 488,204.9 488.6,204.7 489.3,204.5 490,204.2 490.7,204 491.4,203.8 492,203.5 492.7,203.3 493.4,203 494.1,202.8 494.8,202.6 495.5,202.3 496.1,202 496.8,201.8 497.5,201.5 498.2,201.2 498.9,201 499.5,200.7 500.2,200.3 500.9,200 501.6,199.7 502.3,199.3 502.9,198.9 503.6,198.5 504.3,198.1 505,197.6 505.7,197.1 506.3,196.6 507,196.1 507.7,195.5 508.4,194.8 509.1,194.1 509.7,193.4 510.4,192.6 511.1,191.7 511.8,190.8 512.5,189.9 513.1,188.8 513.8,187.8 514.5,186.6 515.2,185.4 515.9,184.1 516.6,182.8 517.2,181.5 517.9,180 518.6,178.5 519.3,177 520,175.4 520.6,173.8 521.3,172.2 522,170.5 522.7,168.8 523.4,167 524,165.3 524.7,163.5 525.4,161.8 526.1,160 526.8,158.3 527.4,156.6 528.1,155 528.8,153.4 529.5,151.9 530.2,150.5 530.8,149.2 531.5,147.9 532.2,146.8 532.9,145.7 533.6,144.7 534.2,143.9 534.9,143.1 535.6,142.4 536.3,141.8 537,141.2" fill="none" stroke="#5f7530" stroke-width="1.2" stroke-linejoin="round" stroke-linecap="round"/>
<polyline points="433.5,215.3 434.2,215.2 436.2,215.2 436.9,215.1 439,215.1 439.6,215 441,215 441.7,214.9 442.4,214.9 443,214.8 443.7,214.8 444.4,214.7 445.1,214.7 445.8,214.6 446.4,214.6 447.1,214.5 447.8,214.5 448.5,214.4 449.2,214.3 449.9,214.3 450.5,214.2 451.2,214.1 451.9,214 452.6,213.9 453.3,213.8 453.9,213.7 454.6,213.6 455.3,213.5 456,213.4 456.7,213.3 457.3,213.2 458,213.1 458.7,212.9 459.4,212.8 460.1,212.7 460.7,212.5 461.4,212.4 462.1,212.2 462.8,212.1 463.5,211.9 464.1,211.8 464.8,211.6 465.5,211.4 466.2,211.2 466.9,211 467.5,210.8 468.2,210.6 468.9,210.4 469.6,210.2 470.3,210 471,209.8 471.6,209.6 472.3,209.4 473,209.1 473.7,208.9 474.4,208.6 475,208.4 475.7,208.1 476.4,207.9 477.1,207.6 477.8,207.4 478.4,207.1 479.1,206.8 479.8,206.6 480.5,206.3 481.2,206 481.8,205.7 482.5,205.4 483.2,205.1 483.9,204.8 484.6,204.5 485.2,204.2 485.9,203.9 486.6,203.6 487.3,203.3 488,203 488.6,202.7 489.3,202.4 490,202.1 490.7,201.7 491.4,201.4 492,201.1 492.7,200.7 493.4,200.4 494.1,200 494.8,199.7 495.5,199.3 496.1,198.9 496.8,198.5 497.5,198.1 498.2,197.7 498.9,197.3 499.5,196.8 500.2,196.3 500.9,195.8 501.6,195.3 502.3,194.8 502.9,194.2 503.6,193.6 504.3,193 505,192.3 505.7,191.6 506.3,190.8 507,190 507.7,189.2 508.4,188.3 509.1,187.4 509.7,186.4 510.4,185.4 511.1,184.3 511.8,183.2 512.5,182.1 513.1,180.9 513.8,179.6 514.5,178.3 515.2,176.9 515.9,175.5 516.6,174.1 517.2,172.6 517.9,171.2 518.6,169.6 519.3,168.1 520,166.5 520.6,164.9 521.3,163.4 522,161.8 522.7,160.2 523.4,158.6 524,157 524.7,155.5 525.4,154 526.1,152.6 526.8,151.3 527.4,150 528.1,148.8 528.8,147.6 529.5,146.6 530.2,145.6 530.8,144.7 531.5,143.9 532.2,143.2 532.9,142.6 533.6,142 534.2,141.5 534.9,141.1 535.6,140.7 536.3,140.4 537,140.1" fill="none" stroke="#4d3b62" stroke-width="1.2" stroke-linejoin="round" stroke-linecap="round"/>
<polyline points="426,215.3 426.7,215.2 427.4,215.2 428.1,215.1 428.8,215.1 429.4,215 430.1,215 430.8,214.9 431.5,214.8 432.2,214.7 432.8,214.7 433.5,214.6 434.2,214.5 434.9,214.3 435.6,214.2 436.2,214.1 436.9,214 437.6,213.9 438.3,213.7 439,213.6 439.6,213.4 440.3,213.3 441,213.1 441.7,212.9 442.4,212.7 443,212.5 443.7,212.4 444.4,212.2 445.1,211.9 445.8,211.7 446.4,211.5 447.1,211.3 447.8,211.1 448.5,210.8 449.2,210.6 449.9,210.3 450.5,210 451.2,209.8 451.9,209.5 452.6,209.2 453.3,208.9 453.9,208.6 454.6,208.3 455.3,208 456,207.7 456.7,207.4 457.3,207.1 458,206.7 458.7,206.4 459.4,206 460.1,205.7 460.7,205.3 461.4,205 462.1,204.6 462.8,204.2 463.5,203.8 464.1,203.4 464.8,203 465.5,202.6 466.2,202.2 466.9,201.8 467.5,201.4 468.2,201 468.9,200.5 469.6,200.1 470.3,199.6 471,199.2 471.6,198.7 472.3,198.2 473,197.8 473.7,197.3 474.4,196.8 475,196.3 475.7,195.8 476.4,195.3 477.1,194.8 477.8,194.3 478.4,193.7 479.1,193.2 479.8,192.7 480.5,192.1 481.2,191.6 481.8,191 482.5,190.5 483.2,189.9 483.9,189.3 484.6,188.7 485.2,188.2 485.9,187.6 486.6,187 487.3,186.4 488,185.8 488.6,185.2 489.3,184.6 490,184 490.7,183.3 491.4,182.7 492,182.1 492.7,181.5 493.4,180.9 494.1,180.3 494.8,179.6 495.5,179 496.1,178.4 496.8,177.8 497.5,177.2 498.2,176.6 498.9,175.9 499.5,175.3 500.2,174.7 500.9,174.1 501.6,173.5 502.3,172.9 502.9,172.3 503.6,171.7 504.3,171.1 505,170.4 505.7,169.8 506.3,169.2 507,168.6 507.7,167.9 508.4,167.3 509.1,166.6 509.7,166 510.4,165.3 511.1,164.7 511.8,164 512.5,163.4 513.1,162.7 513.8,162 514.5,161.3 515.2,160.6 515.9,159.9 516.6,159.3 517.2,158.6 517.9,157.9 518.6,157.2 519.3,156.5 520,155.8 520.6,155.1 521.3,154.3 522,153.6 522.7,152.9 523.4,152.2 524,151.5 524.7,150.8 525.4,150.1 526.1,149.4 526.8,148.7 527.4,148 528.1,147.3 528.8,146.6 529.5,145.9 530.2,145.2 530.8,144.5 531.5,143.8 532.2,143.1 532.9,142.5 533.6,141.9 534.2,141.3 534.9,140.7 535.6,140.2 536.3,139.8 537,139.5" fill="none" stroke="#276a7c" stroke-width="1.2" stroke-linejoin="round" stroke-linecap="round"/>
<polyline points="427.4,215.3 428.1,215.2 429.4,215.2 430.1,215.1 430.8,215.1 431.5,215 432.2,215 432.8,214.9 433.5,214.9 434.2,214.8 434.9,214.7 435.6,214.7 436.2,214.6 436.9,214.5 437.6,214.4 438.3,214.3 439,214.3 439.6,214.2 440.3,214.1 441,214 441.7,213.8 442.4,213.7 443,213.6 443.7,213.5 444.4,213.3 445.1,213.2 445.8,213.1 446.4,212.9 447.1,212.8 447.8,212.6 448.5,212.4 449.2,212.2 449.9,212.1 450.5,211.9 451.2,211.7 451.9,211.5 452.6,211.3 453.3,211 453.9,210.8 454.6,210.6 455.3,210.3 456,210.1 456.7,209.8 457.3,209.5 458,209.3 458.7,209 459.4,208.7 460.1,208.4 460.7,208.1 461.4,207.8 462.1,207.4 462.8,207.1 463.5,206.7 464.1,206.4 464.8,206 465.5,205.6 466.2,205.2 466.9,204.9 467.5,204.4 468.2,204 468.9,203.6 469.6,203.2 470.3,202.7 471,202.3 471.6,201.8 472.3,201.4 473,200.9 473.7,200.4 474.4,199.9 475,199.4 475.7,198.9 476.4,198.4 477.1,197.9 477.8,197.4 478.4,196.9 479.1,196.3 479.8,195.8 480.5,195.2 481.2,194.7 481.8,194.1 482.5,193.6 483.2,193 483.9,192.4 484.6,191.8 485.2,191.3 485.9,190.7 486.6,190.1 487.3,189.5 488,188.9 488.6,188.3 489.3,187.7 490,187.1 490.7,186.5 491.4,185.9 492,185.3 492.7,184.7 493.4,184.1 494.1,183.5 494.8,182.9 495.5,182.3 496.1,181.8 496.8,181.2 497.5,180.6 498.2,180 498.9,179.4 499.5,178.8 500.2,178.2 500.9,177.7 501.6,177.1 502.3,176.5 502.9,175.9 503.6,175.4 504.3,174.8 505,174.2 505.7,173.6 506.3,173 507,172.4 507.7,171.8 508.4,171.2 509.1,170.6 509.7,170 510.4,169.3 511.1,168.6 511.8,167.9 512.5,167.2 513.1,166.5 513.8,165.8 514.5,165 515.2,164.2 515.9,163.3 516.6,162.5 517.2,161.6 517.9,160.7 518.6,159.7 519.3,158.8 520,157.8 520.6,156.8 521.3,155.8 522,154.8 522.7,153.7 523.4,152.7 524,151.7 524.7,150.6 525.4,149.6 526.1,148.6 526.8,147.7 527.4,146.7 528.1,145.8 528.8,145 529.5,144.2 530.2,143.4 530.8,142.7 531.5,142.1 532.2,141.5 532.9,140.9 533.6,140.4 534.2,140 534.9,139.7 535.6,139.4 536.3,139.2 537,139.1" fill="none" stroke="#b65708" stroke-width="1.2" stroke-linejoin="round" stroke-linecap="round"/>
<polyline points="375,215.4 433.5,215.4 434.2,215.3 439.6,215.3 440.3,215.2 443,215.2 443.7,215.1 445.1,215.1 445.8,215 447.1,215 447.8,214.9 448.5,214.9 449.2,214.8 449.9,214.8 450.5,214.7 451.2,214.6 451.9,214.6 452.6,214.5 453.3,214.4 453.9,214.4 454.6,214.3 455.3,214.2 456,214.1 456.7,214 457.3,213.9 458,213.7 458.7,213.6 459.4,213.5 460.1,213.3 460.7,213.2 461.4,213 462.1,212.9 462.8,212.7 463.5,212.5 464.1,212.3 464.8,212.1 465.5,211.9 466.2,211.6 466.9,211.4 467.5,211.1 468.2,210.9 468.9,210.6 469.6,210.3 470.3,210 471,209.7 471.6,209.4 472.3,209.1 473,208.7 473.7,208.4 474.4,208 475,207.6 475.7,207.2 476.4,206.8 477.1,206.4 477.8,205.9 478.4,205.5 479.1,205 479.8,204.6 480.5,204.1 481.2,203.6 481.8,203.1 482.5,202.6 483.2,202 483.9,201.5 484.6,201 485.2,200.4 485.9,199.8 486.6,199.3 487.3,198.7 488,198.1 488.6,197.5 489.3,196.9 490,196.3 490.7,195.7 491.4,195.1 492,194.5 492.7,193.9 493.4,193.2 494.1,192.6 494.8,192 495.5,191.4 496.1,190.7 496.8,190.1 497.5,189.5 498.2,188.9 498.9,188.2 499.5,187.6 500.2,187 500.9,186.4 501.6,185.7 502.3,185.1 502.9,184.5 503.6,183.8 504.3,183.2 505,182.5 505.7,181.8 506.3,181.1 507,180.4 507.7,179.6 508.4,178.8 509.1,177.9 509.7,177 510.4,176.1 511.1,175.1 511.8,174 512.5,172.9 513.1,171.7 513.8,170.5 514.5,169.2 515.2,167.9 515.9,166.5 516.6,165.1 517.2,163.6 517.9,162.1 518.6,160.6 519.3,159.2 520,157.7 520.6,156.2 521.3,154.8 522,153.4 522.7,152.1 523.4,150.8 524,149.6 524.7,148.4 525.4,147.3 526.1,146.3 526.8,145.4 527.4,144.5 528.1,143.7 528.8,143 529.5,142.4 530.2,141.8 530.8,141.3 531.5,140.8 532.2,140.4 532.9,140.1 533.6,139.8 534.2,139.5 534.9,139.3 535.6,139.2 536.3,139.1 537,139" fill="none" stroke="#729aca" stroke-width="1.2" stroke-linejoin="round" stroke-linecap="round"/>
<line x1="375.4" y1="142.9" x2="387" y2="142.9" stroke="#c0504d" stroke-width="1.3"/>
<text x="388.5" y="145.57" font-family="Liberation Serif, Times New Roman, serif" font-size="8.1" fill="#151515" stroke="#151515" stroke-width="0.18">W1</text>
<line x1="422.3" y1="142.9" x2="433.9" y2="142.9" stroke="#4f81bd" stroke-width="1.3"/>
<text x="435.9" y="145.57" font-family="Liberation Serif, Times New Roman, serif" font-size="8.1" fill="#151515" stroke="#151515" stroke-width="0.18">W2</text>
<line x1="375.4" y1="150.93" x2="387" y2="150.93" stroke="#9bbb59" stroke-width="1.3"/>
<text x="388.5" y="153.6" font-family="Liberation Serif, Times New Roman, serif" font-size="8.1" fill="#151515" stroke="#151515" stroke-width="0.18">W3</text>
<line x1="422.3" y1="150.93" x2="433.9" y2="150.93" stroke="#8064a2" stroke-width="1.3"/>
<text x="435.9" y="153.6" font-family="Liberation Serif, Times New Roman, serif" font-size="8.1" fill="#151515" stroke="#151515" stroke-width="0.18">W4</text>
<line x1="375.4" y1="158.96" x2="387" y2="158.96" stroke="#4bacc6" stroke-width="1.3"/>
<text x="388.5" y="161.63" font-family="Liberation Serif, Times New Roman, serif" font-size="8.1" fill="#151515" stroke="#151515" stroke-width="0.18">W5</text>
<line x1="422.3" y1="158.96" x2="433.9" y2="158.96" stroke="#f79646" stroke-width="1.3"/>
<text x="435.9" y="161.63" font-family="Liberation Serif, Times New Roman, serif" font-size="8.1" fill="#151515" stroke="#151515" stroke-width="0.18">W6</text>
<line x1="375.4" y1="166.99" x2="387" y2="166.99" stroke="#2c4d75" stroke-width="1.45"/>
<text x="388.5" y="169.66" font-family="Liberation Serif, Times New Roman, serif" font-size="8.1" fill="#151515" stroke="#151515" stroke-width="0.18">W7</text>
<line x1="422.3" y1="166.99" x2="433.9" y2="166.99" stroke="#772c2a" stroke-width="1.45"/>
<text x="435.9" y="169.66" font-family="Liberation Serif, Times New Roman, serif" font-size="8.1" fill="#151515" stroke="#151515" stroke-width="0.18">W8</text>
<line x1="375.4" y1="175.02" x2="387" y2="175.02" stroke="#5f7530" stroke-width="1.3"/>
<text x="388.5" y="177.69" font-family="Liberation Serif, Times New Roman, serif" font-size="8.1" fill="#151515" stroke="#151515" stroke-width="0.18">W9</text>
<line x1="422.3" y1="175.02" x2="433.9" y2="175.02" stroke="#4d3b62" stroke-width="1.3"/>
<text x="435.9" y="177.69" font-family="Liberation Serif, Times New Roman, serif" font-size="8.1" fill="#151515" stroke="#151515" stroke-width="0.18">W10</text>
<line x1="375.4" y1="183.05" x2="387" y2="183.05" stroke="#276a7c" stroke-width="1.3"/>
<text x="388.5" y="185.72" font-family="Liberation Serif, Times New Roman, serif" font-size="8.1" fill="#151515" stroke="#151515" stroke-width="0.18">W11</text>
<line x1="422.3" y1="183.05" x2="433.9" y2="183.05" stroke="#b65708" stroke-width="1.3"/>
<text x="435.9" y="185.72" font-family="Liberation Serif, Times New Roman, serif" font-size="8.1" fill="#151515" stroke="#151515" stroke-width="0.18">W12</text>
<line x1="375.4" y1="191.08" x2="387" y2="191.08" stroke="#729aca" stroke-width="1.3"/>
<text x="388.5" y="193.75" font-family="Liberation Serif, Times New Roman, serif" font-size="8.1" fill="#151515" stroke="#151515" stroke-width="0.18">W13</text>
<line x1="370.5" y1="248" x2="370.5" y2="332.8" stroke="#6e6e6e" stroke-width="0.8"/>
<line x1="367.5" y1="330.5" x2="546.4" y2="330.5" stroke="#6e6e6e" stroke-width="0.8"/>
<text x="362.7" y="333.21" font-family="Liberation Serif, Times New Roman, serif" font-size="8.1" fill="#151515" stroke="#151515" stroke-width="0.18" text-anchor="end">0</text>
<text x="362.7" y="315.07" font-family="Liberation Serif, Times New Roman, serif" font-size="8.1" fill="#151515" stroke="#151515" stroke-width="0.18" text-anchor="end">2</text>
<text x="362.7" y="296.93" font-family="Liberation Serif, Times New Roman, serif" font-size="8.1" fill="#151515" stroke="#151515" stroke-width="0.18" text-anchor="end">4</text>
<text x="362.7" y="278.79" font-family="Liberation Serif, Times New Roman, serif" font-size="8.1" fill="#151515" stroke="#151515" stroke-width="0.18" text-anchor="end">6</text>
<text x="362.7" y="260.65" font-family="Liberation Serif, Times New Roman, serif" font-size="8.1" fill="#151515" stroke="#151515" stroke-width="0.18" text-anchor="end">8</text>
<path d="M370.5,330.5 h-2.2 M370.5,325.96 h-2.2 M370.5,321.43 h-2.2 M370.5,316.89 h-2.2 M370.5,312.36 h-2.2 M370.5,307.82 h-2.2 M370.5,303.29 h-2.2 M370.5,298.75 h-2.2 M370.5,294.22 h-2.2 M370.5,289.69 h-2.2 M370.5,285.15 h-2.2 M370.5,280.62 h-2.2 M370.5,276.08 h-2.2 M370.5,271.55 h-2.2 M370.5,267.01 h-2.2 M370.5,262.48 h-2.2 M370.5,257.94 h-2.2 M370.5,253.41 h-2.2 M370.5,248.87 h-2.2 M370.5,330.5 h-3.4 M370.5,312.36 h-3.4 M370.5,294.22 h-3.4 M370.5,276.08 h-3.4 M370.5,257.94 h-3.4" stroke="#6e6e6e" stroke-width="0.7" fill="none"/>
<path d="M370.5,330.5 v2.6 M380.49,330.5 v1.5 M386.34,330.5 v1.5 M390.49,330.5 v1.5 M393.71,330.5 v1.5 M396.33,330.5 v1.5 M398.56,330.5 v1.5 M400.48,330.5 v1.5 M402.18,330.5 v1.5 M403.7,330.5 v2.6 M413.69,330.5 v1.5 M419.54,330.5 v1.5 M423.69,330.5 v1.5 M426.91,330.5 v1.5 M429.53,330.5 v1.5 M431.76,330.5 v1.5 M433.68,330.5 v1.5 M435.38,330.5 v1.5 M436.9,330.5 v2.6 M446.89,330.5 v1.5 M452.74,330.5 v1.5 M456.89,330.5 v1.5 M460.11,330.5 v1.5 M462.73,330.5 v1.5 M464.96,330.5 v1.5 M466.88,330.5 v1.5 M468.58,330.5 v1.5 M470.1,330.5 v2.6 M480.09,330.5 v1.5 M485.94,330.5 v1.5 M490.09,330.5 v1.5 M493.31,330.5 v1.5 M495.93,330.5 v1.5 M498.16,330.5 v1.5 M500.08,330.5 v1.5 M501.78,330.5 v1.5 M503.3,330.5 v2.6 M513.29,330.5 v1.5 M519.14,330.5 v1.5 M523.29,330.5 v1.5 M526.51,330.5 v1.5 M529.13,330.5 v1.5 M531.36,330.5 v1.5 M533.28,330.5 v1.5 M534.98,330.5 v1.5 M536.5,330.5 v2.6 M546.49,330.5 v1.5" stroke="#6e6e6e" stroke-width="0.7" fill="none"/>
<text x="370.5" y="343.6" font-family="Liberation Serif, Times New Roman, serif" font-size="8.1" fill="#151515" stroke="#151515" stroke-width="0.18" text-anchor="middle">0.01</text>
<text x="436.9" y="343.6" font-family="Liberation Serif, Times New Roman, serif" font-size="8.1" fill="#151515" stroke="#151515" stroke-width="0.18" text-anchor="middle">1</text>
<text x="503.3" y="343.6" font-family="Liberation Serif, Times New Roman, serif" font-size="8.1" fill="#151515" stroke="#151515" stroke-width="0.18" text-anchor="middle">100</text>
<text x="447.5" y="239" font-family="Liberation Serif, Times New Roman, serif" font-size="10.75" fill="#151515" stroke="#151515" stroke-width="0.18" text-anchor="middle">Frequency curve P1-9</text>
<text x="348.5" y="292.25" font-family="Liberation Serif, Times New Roman, serif" font-size="8.9" fill="#151515" stroke="#151515" stroke-width="0.18" text-anchor="middle" transform="rotate(-90 348.5 292.25)">Volume (%)</text>
<polyline points="422.3,330.4 423,330.4 423.6,330.3 424.3,330.2 424.9,330.1 425.6,330 426.3,329.9 426.9,329.7 427.6,329.5 428.3,329.4 428.9,329.2 429.6,329 430.3,328.8 430.9,328.6 431.6,328.4 432.3,328.3 432.9,328.2 433.6,328.1 434.9,328.1 435.6,328 437.6,328 438.2,327.9 439.6,327.9 440.2,327.8 440.9,327.8 441.5,327.7 442.2,327.7 442.9,327.6 443.5,327.5 444.2,327.4 444.9,327.4 445.5,327.3 446.2,327.2 446.9,327.1 447.5,327.1 448.2,327 448.9,326.9 449.5,326.9 450.2,326.8 450.8,326.7 451.5,326.7 452.2,326.6 452.8,326.6 453.5,326.5 454.2,326.4 454.8,326.4 455.5,326.3 456.8,326.3 457.5,326.2 458.1,326.2 458.8,326.1 460.1,326.1 460.8,326 462.1,326 462.8,325.9 464.8,325.9 465.5,325.8 468.1,325.8 468.8,325.7 472.8,325.7 473.4,325.6 480.1,325.6 480.7,325.7 484,325.7 484.7,325.8 486.7,325.8 487.4,325.9 488.7,325.9 489.4,326 490,326 490.7,326.1 491.3,326.1 492,326.2 492.7,326.2 493.3,326.3 494,326.3 494.7,326.4 498,326.4 498.7,326.3 499.3,326.3 500,326.1 500.6,325.9 501.3,325.6 502,325.3 502.6,324.8 503.3,324.3 504,323.6 504.6,322.7 505.3,321.7 506,320.5 506.6,319.1 507.3,317.5 507.9,315.8 508.6,313.8 509.3,311.6 509.9,309.3 510.6,306.8 511.3,304.2 511.9,301.5 512.6,298.8 513.3,296.1 513.9,293.5 514.6,291.1 515.3,288.8 515.9,286.8 516.6,285.1 517.2,283.8 517.9,282.9 518.6,282.4 519.2,282.3 519.9,282.7 520.6,283.6 521.2,284.8 521.9,286.4 522.6,288.4 523.2,290.6 523.9,293.1 524.5,295.7 525.2,298.5 525.9,301.3 526.5,304.1 527.2,306.9 527.9,309.6 528.5,312.1 529.2,314.5 529.9,316.7 530.5,318.7 531.2,320.5 531.9,322.1 532.5,323.5 533.2,324.7 533.8,325.8 534.5,326.6 535.2,327.4 535.8,328.2 536.5,328.8 537.2,329.4 537.8,329.8 538.5,330.1 539.2,330.3 539.8,330.4 540.5,330.5 545.8,330.5" fill="none" stroke="#c0504d" stroke-width="1.2" stroke-linejoin="round" stroke-linecap="round"/>
<polyline points="421,330.5 421.6,330.5 422.3,330.3 423,330.1 423.6,329.9 424.3,329.5 424.9,329.1 425.6,328.6 426.3,328 426.9,327.3 427.6,326.5 428.3,325.6 428.9,324.7 429.6,323.7 430.3,322.6 430.9,321.7 431.6,320.8 432.3,320 432.9,319.5 433.6,319.1 434.2,318.7 434.9,318.5 435.6,318.3 436.2,318.1 436.9,318 437.6,317.8 438.2,317.7 438.9,317.5 439.6,317.3 440.2,317 440.9,316.7 441.5,316.3 442.2,316 442.9,315.5 443.5,315.1 444.2,314.7 444.9,314.2 445.5,313.8 446.2,313.4 446.9,312.9 447.5,312.5 448.2,312.2 448.9,311.8 449.5,311.5 450.2,311.1 450.8,310.8 451.5,310.6 452.2,310.3 452.8,310.1 453.5,309.9 454.2,309.7 454.8,309.5 455.5,309.4 456.2,309.2 456.8,309.1 457.5,309 458.1,309 458.8,308.9 459.5,308.8 460.8,308.8 461.5,308.7 464.1,308.7 464.8,308.8 466.8,308.8 467.4,308.9 468.8,308.9 469.4,309 470.8,309 471.4,309.1 472.8,309.1 473.4,309.2 474.7,309.2 475.4,309.3 476.1,309.3 476.7,309.4 478.1,309.4 478.7,309.5 479.4,309.5 480.1,309.6 480.7,309.7 481.4,309.7 482.1,309.8 482.7,309.9 483.4,310 484,310.1 484.7,310.2 485.4,310.3 486,310.5 486.7,310.6 487.4,310.8 488,311 488.7,311.2 489.4,311.5 490,311.7 490.7,312 491.3,312.3 492,312.7 492.7,313.1 493.3,313.5 494,313.9 494.7,314.4 495.3,314.9 496,315.5 496.7,316 497.3,316.6 498,317.2 498.7,317.9 499.3,318.5 500,319.2 500.6,319.8 501.3,320.5 502,321.2 502.6,321.8 503.3,322.5 504,323.1 504.6,323.7 505.3,324.2 506,324.8 506.6,325.3 507.3,325.8 507.9,326.3 508.6,326.8 509.3,327.4 509.9,327.8 510.6,328.3 511.3,328.7 511.9,329 512.6,329.3 513.3,329.6 513.9,329.8 514.6,330 515.3,330.1 515.9,330.3 516.6,330.3 517.2,330.4 517.9,330.5 545.8,330.5" fill="none" stroke="#4f81bd" stroke-width="1.2" stroke-linejoin="round" stroke-linecap="round"/>
<polyline points="423,330.4 423.6,330.3 424.3,330.2 424.9,330.1 425.6,330 426.3,329.9 426.9,329.8 427.6,329.6 428.3,329.4 428.9,329.3 429.6,329.1 430.3,328.9 430.9,328.7 431.6,328.6 432.3,328.4 432.9,328.3 433.6,328.3 434.2,328.2 436.9,328.2 437.6,328.1 439.6,328.1 440.2,328 440.9,328 441.5,327.9 442.2,327.9 442.9,327.8 443.5,327.8 444.2,327.7 444.9,327.6 445.5,327.6 446.2,327.5 446.9,327.4 447.5,327.4 448.2,327.3 448.9,327.2 449.5,327.2 450.2,327.1 450.8,327 451.5,327 452.2,326.9 452.8,326.9 453.5,326.8 454.2,326.8 454.8,326.7 456.2,326.7 456.8,326.6 457.5,326.6 458.1,326.5 459.5,326.5 460.1,326.4 461.5,326.4 462.1,326.3 464.1,326.3 464.8,326.2 467.4,326.2 468.1,326.1 472.8,326.1 473.4,326 480.1,326 480.7,326.1 484,326.1 484.7,326.2 486.7,326.2 487.4,326.3 489.4,326.3 490,326.4 492.7,326.4 493.3,326.3 494,326.2 494.7,326 495.3,325.8 496,325.4 496.7,324.9 497.3,324.3 498,323.4 498.7,322.3 499.3,320.9 500,319.2 500.6,317.2 501.3,314.8 502,312.1 502.6,309 503.3,305.5 504,301.8 504.6,297.9 505.3,293.9 506,289.9 506.6,286 507.3,282.4 507.9,279.1 508.6,276.4 509.3,274.4 509.9,273 510.6,272.5 511.3,272.8 511.9,273.9 512.6,275.7 513.3,278.3 513.9,281.4 514.6,285 515.3,289 515.9,293.1 516.6,297.3 517.2,301.4 517.9,305.4 518.6,309.1 519.2,312.5 519.9,315.6 520.6,318.3 521.2,320.6 521.9,322.6 522.6,324.2 523.2,325.6 523.9,326.8 524.5,327.8 525.2,328.7 525.9,329.3 526.5,329.8 527.2,330.1 527.9,330.3 528.5,330.4 529.2,330.5 545.8,330.5" fill="none" stroke="#9bbb59" stroke-width="1.2" stroke-linejoin="round" stroke-linecap="round"/>
<polyline points="421.6,330.5 422.3,330.4 423,330.3 423.6,330.1 424.3,330 424.9,329.8 425.6,329.5 426.3,329.2 426.9,328.9 427.6,328.5 428.3,328 428.9,327.5 429.6,327.1 430.3,326.6 430.9,326.1 431.6,325.7 432.3,325.4 432.9,325.2 433.6,325 434.2,324.9 434.9,324.9 435.6,324.8 436.2,324.8 436.9,324.9 438.9,324.9 439.6,324.8 440.2,324.8 440.9,324.7 441.5,324.6 442.2,324.5 442.9,324.4 443.5,324.3 444.2,324.2 444.9,324 445.5,323.9 446.2,323.7 446.9,323.6 447.5,323.4 448.2,323.3 448.9,323.2 449.5,323.1 450.2,322.9 450.8,322.8 451.5,322.7 452.2,322.6 452.8,322.5 453.5,322.4 454.2,322.3 454.8,322.3 455.5,322.2 456.2,322.1 456.8,322 457.5,322 458.1,321.9 458.8,321.8 459.5,321.8 460.1,321.7 460.8,321.7 461.5,321.6 462.1,321.6 462.8,321.5 464.1,321.5 464.8,321.4 466.1,321.4 466.8,321.3 468.1,321.3 468.8,321.2 470.1,321.2 470.8,321.1 473.4,321.1 474.1,321 478.1,321 478.7,320.9 485.4,320.9 486,320.8 486.7,320.8 487.4,320.7 488,320.7 488.7,320.6 489.4,320.4 490,320.3 490.7,320 491.3,319.8 492,319.4 492.7,319 493.3,318.4 494,317.8 494.7,317 495.3,316.1 496,315.1 496.7,313.9 497.3,312.6 498,311.1 498.7,309.5 499.3,307.8 500,306.1 500.6,304.2 501.3,302.3 502,300.4 502.6,298.6 503.3,296.9 504,295.3 504.6,293.9 505.3,292.7 506,291.8 506.6,291.2 507.3,290.9 507.9,291 508.6,291.3 509.3,292.1 509.9,293.1 510.6,294.4 511.3,296 511.9,297.8 512.6,299.7 513.3,301.8 513.9,304 514.6,306.3 515.3,308.5 515.9,310.7 516.6,312.8 517.2,314.8 517.9,316.6 518.6,318.4 519.2,320 519.9,321.4 520.6,322.7 521.2,323.8 521.9,324.8 522.6,325.6 523.2,326.3 523.9,327 524.5,327.8 525.2,328.5 525.9,329 526.5,329.5 527.2,329.9 527.9,330.2 528.5,330.4 529.2,330.5 545.8,330.5" fill="none" stroke="#8064a2" stroke-width="1.2" stroke-linejoin="round" stroke-linecap="round"/>
<polyline points="423,330.4 423.6,330.3 424.3,330.3 424.9,330.2 425.6,330.1 426.3,330 426.9,329.9 427.6,329.7 428.3,329.6 428.9,329.4 429.6,329.3 430.3,329.1 430.9,329 431.6,328.8 432.3,328.7 432.9,328.7 433.6,328.6 434.2,328.6 434.9,328.5 436.2,328.5 436.9,328.4 438.9,328.4 439.6,328.3 440.2,328.3 440.9,328.2 441.5,328.2 442.2,328.1 442.9,328.1 443.5,328 444.2,328 444.9,327.9 445.5,327.8 446.2,327.8 446.9,327.7 447.5,327.6 448.2,327.6 448.9,327.5 449.5,327.5 450.2,327.4 450.8,327.4 451.5,327.3 452.2,327.3 452.8,327.2 453.5,327.2 454.2,327.1 454.8,327.1 455.5,327 456.8,327 457.5,326.9 458.8,326.9 459.5,326.8 460.8,326.8 461.5,326.7 464.1,326.7 464.8,326.6 467.4,326.6 468.1,326.5 473.4,326.5 474.1,326.4 479.4,326.4 480.1,326.5 484.7,326.5 485.4,326.6 487.4,326.6 488,326.7 489.4,326.7 490,326.8 490.7,326.8 491.3,326.9 492,326.9 492.7,327 493.3,327 494,327.1 494.7,327.1 495.3,327.2 496,327.2 496.7,327.3 497.3,327.3 498,327.4 499.3,327.4 500,327.5 500.6,327.4 501.3,327.4 502,327.3 502.6,327.1 503.3,326.8 504,326.4 504.6,325.9 505.3,325.1 506,324.1 506.6,322.8 507.3,321.2 507.9,319.2 508.6,316.8 509.3,313.9 509.9,310.7 510.6,307 511.3,302.9 511.9,298.6 512.6,294.1 513.3,289.6 513.9,285.1 514.6,280.9 515.3,277.1 515.9,274 516.6,271.5 517.2,269.9 517.9,269.3 518.6,269.6 519.2,270.8 519.9,272.9 520.6,275.9 521.2,279.4 521.9,283.5 522.6,288 523.2,292.6 523.9,297.3 524.5,301.8 525.2,306.1 525.9,310.1 526.5,313.7 527.2,316.8 527.9,319.6 528.5,321.9 529.2,324.2 529.9,326.1 530.5,327.7 531.2,328.8 531.9,329.6 532.5,330 533.2,330.3 533.8,330.4 534.5,330.5 545.8,330.5" fill="none" stroke="#4bacc6" stroke-width="1.2" stroke-linejoin="round" stroke-linecap="round"/>
<polyline points="421.6,330.5 422.3,330.3 423,330.2 423.6,329.9 424.3,329.7 424.9,329.4 425.6,329.1 426.3,328.7 426.9,328.3 427.6,327.8 428.3,327.3 428.9,326.8 429.6,326.3 430.3,325.8 430.9,325.3 431.6,324.8 432.3,324.5 432.9,324.2 433.6,324 434.2,323.8 434.9,323.7 435.6,323.6 436.2,323.5 436.9,323.4 437.6,323.4 438.2,323.3 438.9,323.2 439.6,323.1 440.2,323 440.9,322.9 441.5,322.8 442.2,322.6 442.9,322.4 443.5,322.3 444.2,322.1 444.9,321.9 445.5,321.8 446.2,321.6 446.9,321.4 447.5,321.3 448.2,321.1 448.9,321 449.5,320.8 450.2,320.7 450.8,320.6 451.5,320.5 452.2,320.3 452.8,320.2 453.5,320.1 454.2,320 454.8,319.9 455.5,319.9 456.2,319.8 456.8,319.7 457.5,319.6 458.1,319.6 458.8,319.5 459.5,319.5 460.1,319.4 460.8,319.4 461.5,319.3 462.8,319.3 463.5,319.2 464.8,319.2 465.5,319.1 468.1,319.1 468.8,319 480.7,319 481.4,318.9 483.4,318.9 484,318.8 484.7,318.8 485.4,318.7 486,318.7 486.7,318.6 487.4,318.5 488,318.4 488.7,318.2 489.4,318.1 490,317.9 490.7,317.7 491.3,317.5 492,317.3 492.7,317 493.3,316.7 494,316.3 494.7,316 495.3,315.6 496,315.1 496.7,314.7 497.3,314.2 498,313.7 498.7,313.1 499.3,312.6 500,312 500.6,311.4 501.3,310.8 502,310.2 502.6,309.6 503.3,309 504,308.5 504.6,307.9 505.3,307.4 506,307 506.6,306.5 507.3,306.2 507.9,305.9 508.6,305.6 509.3,305.5 509.9,305.4 511.3,305.4 511.9,305.6 512.6,305.8 513.3,306.1 513.9,306.5 514.6,306.9 515.3,307.5 515.9,308.1 516.6,308.7 517.2,309.5 517.9,310.2 518.6,311 519.2,311.9 519.9,312.7 520.6,313.6 521.2,314.5 521.9,315.4 522.6,316.3 523.2,317.2 523.9,318.1 524.5,318.9 525.2,319.7 525.9,320.5 526.5,321.3 527.2,322 527.9,322.7 528.5,323.4 529.2,324 529.9,324.5 530.5,325.1 531.2,325.6 531.9,326 532.5,326.4 533.2,326.8 533.8,327.3 534.5,327.8 535.2,328.4 535.8,328.9 536.5,329.4 537.2,329.8 537.8,330.1 538.5,330.3 539.2,330.5 545.8,330.5" fill="none" stroke="#f79646" stroke-width="1.2" stroke-linejoin="round" stroke-linecap="round"/>
<polyline points="423,330.4 423.6,330.3 424.3,330.3 424.9,330.2 425.6,330.1 426.3,330 426.9,329.9 427.6,329.7 428.3,329.6 428.9,329.4 429.6,329.3 430.3,329.1 430.9,329 431.6,328.8 432.3,328.7 432.9,328.7 433.6,328.6 434.2,328.6 434.9,328.5 436.2,328.5 436.9,328.4 438.9,328.4 439.6,328.3 440.2,328.3 440.9,328.2 441.5,328.2 442.2,328.1 442.9,328.1 443.5,328 444.2,328 444.9,327.9 445.5,327.8 446.2,327.8 446.9,327.7 447.5,327.6 448.2,327.6 448.9,327.5 449.5,327.5 450.2,327.4 450.8,327.4 451.5,327.3 452.2,327.3 452.8,327.2 453.5,327.2 454.2,327.1 454.8,327.1 455.5,327 456.8,327 457.5,326.9 458.8,326.9 459.5,326.8 460.8,326.8 461.5,326.7 464.1,326.7 464.8,326.6 467.4,326.6 468.1,326.5 473.4,326.5 474.1,326.4 479.4,326.4 480.1,326.5 484.7,326.5 485.4,326.6 487.4,326.6 488,326.7 489.4,326.7 490,326.8 490.7,326.8 491.3,326.9 492.7,326.9 493.3,327 494,327 494.7,327.1 495.3,327.1 496,327.2 496.7,327.2 497.3,327.3 500,327.3 500.6,327.2 501.3,327.1 502,327 502.6,326.8 503.3,326.5 504,326.1 504.6,325.7 505.3,325.1 506,324.3 506.6,323.5 507.3,322.4 507.9,321.1 508.6,319.6 509.3,317.9 509.9,316 510.6,313.9 511.3,311.5 511.9,309 512.6,306.2 513.3,303.4 513.9,300.5 514.6,297.5 515.3,294.6 515.9,291.7 516.6,289.1 517.2,286.6 517.9,284.5 518.6,282.7 519.2,281.3 519.9,280.4 520.6,279.9 521.2,280 521.9,280.5 522.6,281.5 523.2,283 523.9,284.9 524.5,287.1 525.2,289.6 525.9,292.4 526.5,295.3 527.2,298.3 527.9,301.4 528.5,304.4 529.2,307.3 529.9,310.1 530.5,312.8 531.2,315.2 531.9,317.4 532.5,319.5 533.2,321.3 533.8,322.8 534.5,324.2 535.2,325.4 535.8,326.3 536.5,327.2 537.2,327.9 537.8,328.4 538.5,328.9 539.2,329.3 539.8,329.7 540.5,330 541.1,330.2 541.8,330.3 542.5,330.4 543.1,330.5 545.8,330.5" fill="none" stroke="#2c4d75" stroke-width="1.35" stroke-linejoin="round" stroke-linecap="round"/>
<polyline points="421.6,330.5 422.3,330.3 423,330.2 423.6,329.9 424.3,329.7 424.9,329.3 425.6,328.9 426.3,328.3 426.9,327.7 427.6,327 428.3,326.2 428.9,325.4 429.6,324.5 430.3,323.6 430.9,322.7 431.6,322 432.3,321.3 432.9,320.9 433.6,320.5 434.2,320.2 434.9,320 435.6,319.9 436.2,319.8 436.9,319.7 437.6,319.6 438.2,319.5 438.9,319.4 439.6,319.3 440.2,319.1 440.9,318.9 441.5,318.6 442.2,318.3 442.9,318 443.5,317.7 444.2,317.3 444.9,317 445.5,316.7 446.2,316.3 446.9,316 447.5,315.7 448.2,315.4 448.9,315.2 449.5,314.9 450.2,314.7 450.8,314.4 451.5,314.2 452.2,314 452.8,313.8 453.5,313.7 454.2,313.5 454.8,313.4 455.5,313.3 456.2,313.1 456.8,313 457.5,312.9 458.1,312.8 458.8,312.7 459.5,312.7 460.1,312.6 460.8,312.5 461.5,312.5 462.1,312.4 462.8,312.4 463.5,312.3 464.8,312.3 465.5,312.2 466.8,312.2 467.4,312.1 470.8,312.1 471.4,312 478.7,312 479.4,311.9 492,311.9 492.7,311.8 493.3,311.8 494,311.7 494.7,311.7 495.3,311.6 496,311.5 496.7,311.4 497.3,311.2 498,311.1 498.7,310.9 499.3,310.7 500,310.5 500.6,310.3 501.3,310.1 502,309.9 502.6,309.8 503.3,309.7 504,309.7 504.6,309.8 505.3,309.9 506,310.2 506.6,310.5 507.3,310.9 507.9,311.5 508.6,312.1 509.3,312.9 509.9,313.7 510.6,314.6 511.3,315.6 511.9,316.7 512.6,317.7 513.3,318.8 513.9,319.9 514.6,321 515.3,322.1 515.9,323.3 516.6,324.5 517.2,325.7 517.9,326.7 518.6,327.7 519.2,328.4 519.9,329 520.6,329.5 521.2,329.9 521.9,330.1 522.6,330.3 523.2,330.4 523.9,330.5 545.8,330.5" fill="none" stroke="#772c2a" stroke-width="1.35" stroke-linejoin="round" stroke-linecap="round"/>
<polyline points="377.8,330.5 421,330.5 421.6,330.4 422.3,330.2 423,329.9 423.6,329.5 424.3,329 424.9,328.4 425.6,327.7 426.3,326.8 426.9,325.9 427.6,324.8 428.3,323.6 428.9,322.3 429.6,321 430.3,319.7 430.9,318.4 431.6,317.3 432.3,316.3 432.9,315.6 433.6,315 434.2,314.5 434.9,314.1 435.6,313.8 436.2,313.5 436.9,313.2 437.6,312.9 438.2,312.6 438.9,312.3 439.6,311.8 440.2,311.4 440.9,310.9 441.5,310.3 442.2,309.7 442.9,309 443.5,308.3 444.2,307.6 444.9,306.8 445.5,306.1 446.2,305.3 446.9,304.6 447.5,303.9 448.2,303.1 448.9,302.5 449.5,301.8 450.2,301.2 450.8,300.6 451.5,300 452.2,299.5 452.8,299 453.5,298.6 454.2,298.2 454.8,297.9 455.5,297.6 456.2,297.4 456.8,297.2 457.5,297 458.1,297 458.8,296.9 459.5,297 460.1,297 460.8,297.1 461.5,297.2 462.1,297.4 462.8,297.6 463.5,297.8 464.1,298 464.8,298.3 465.5,298.6 466.1,299 466.8,299.4 467.4,299.8 468.1,300.2 468.8,300.6 469.4,301.1 470.1,301.6 470.8,302.1 471.4,302.7 472.1,303.2 472.8,303.8 473.4,304.4 474.1,305 474.7,305.6 475.4,306.3 476.1,306.9 476.7,307.5 477.4,308.2 478.1,308.8 478.7,309.5 479.4,310.1 480.1,310.8 480.7,311.5 481.4,312.1 482.1,312.8 482.7,313.4 483.4,314 484,314.7 484.7,315.3 485.4,315.9 486,316.7 486.7,317.5 487.4,318.4 488,319.3 488.7,320.2 489.4,321.2 490,322.2 490.7,323.1 491.3,324 492,324.8 492.7,325.6 493.3,326.4 494,327.1 494.7,327.7 495.3,328.3 496,328.7 496.7,329.2 497.3,329.5 498,329.8 498.7,330.1 499.3,330.2 500,330.4 500.6,330.5 545.8,330.5" fill="none" stroke="#5f7530" stroke-width="1.2" stroke-linejoin="round" stroke-linecap="round"/>
<line x1="380.7" y1="251.9" x2="393" y2="251.9" stroke="#c0504d" stroke-width="1.3"/>
<text x="394.6" y="254.57" font-family="Liberation Serif, Times New Roman, serif" font-size="8.1" fill="#151515" stroke="#151515" stroke-width="0.18">P1</text>
<line x1="414.3" y1="251.9" x2="426.6" y2="251.9" stroke="#4f81bd" stroke-width="1.3"/>
<text x="427.4" y="254.57" font-family="Liberation Serif, Times New Roman, serif" font-size="8.1" fill="#151515" stroke="#151515" stroke-width="0.18">P2</text>
<line x1="380.7" y1="261.05" x2="393" y2="261.05" stroke="#9bbb59" stroke-width="1.3"/>
<text x="394.6" y="263.72" font-family="Liberation Serif, Times New Roman, serif" font-size="8.1" fill="#151515" stroke="#151515" stroke-width="0.18">P3</text>
<line x1="414.3" y1="261.05" x2="426.6" y2="261.05" stroke="#8064a2" stroke-width="1.3"/>
<text x="427.4" y="263.72" font-family="Liberation Serif, Times New Roman, serif" font-size="8.1" fill="#151515" stroke="#151515" stroke-width="0.18">P4</text>
<line x1="380.7" y1="270.2" x2="393" y2="270.2" stroke="#4bacc6" stroke-width="1.3"/>
<text x="394.6" y="272.87" font-family="Liberation Serif, Times New Roman, serif" font-size="8.1" fill="#151515" stroke="#151515" stroke-width="0.18">P5</text>
<line x1="414.3" y1="270.2" x2="426.6" y2="270.2" stroke="#f79646" stroke-width="1.3"/>
<text x="427.4" y="272.87" font-family="Liberation Serif, Times New Roman, serif" font-size="8.1" fill="#151515" stroke="#151515" stroke-width="0.18">P6</text>
<line x1="380.7" y1="279.35" x2="393" y2="279.35" stroke="#2c4d75" stroke-width="1.45"/>
<text x="394.6" y="282.02" font-family="Liberation Serif, Times New Roman, serif" font-size="8.1" fill="#151515" stroke="#151515" stroke-width="0.18">P7</text>
<line x1="414.3" y1="279.35" x2="426.6" y2="279.35" stroke="#772c2a" stroke-width="1.45"/>
<text x="427.4" y="282.02" font-family="Liberation Serif, Times New Roman, serif" font-size="8.1" fill="#151515" stroke="#151515" stroke-width="0.18">P8</text>
<line x1="380.7" y1="288.5" x2="393" y2="288.5" stroke="#5f7530" stroke-width="1.3"/>
<text x="394.6" y="291.17" font-family="Liberation Serif, Times New Roman, serif" font-size="8.1" fill="#151515" stroke="#151515" stroke-width="0.18">P9</text>
<line x1="374.5" y1="365.2" x2="374.5" y2="442.7" stroke="#6e6e6e" stroke-width="0.8"/>
<line x1="371.5" y1="440.4" x2="537.9" y2="440.4" stroke="#6e6e6e" stroke-width="0.8"/>
<text x="368" y="442.91" font-family="Liberation Serif, Times New Roman, serif" font-size="7.5" fill="#151515" stroke="#151515" stroke-width="0.18" text-anchor="end">0</text>
<text x="368" y="427.87" font-family="Liberation Serif, Times New Roman, serif" font-size="7.5" fill="#151515" stroke="#151515" stroke-width="0.18" text-anchor="end">20</text>
<text x="368" y="412.83" font-family="Liberation Serif, Times New Roman, serif" font-size="7.5" fill="#151515" stroke="#151515" stroke-width="0.18" text-anchor="end">40</text>
<text x="368" y="397.79" font-family="Liberation Serif, Times New Roman, serif" font-size="7.5" fill="#151515" stroke="#151515" stroke-width="0.18" text-anchor="end">60</text>
<text x="368" y="382.75" font-family="Liberation Serif, Times New Roman, serif" font-size="7.5" fill="#151515" stroke="#151515" stroke-width="0.18" text-anchor="end">80</text>
<text x="368" y="367.71" font-family="Liberation Serif, Times New Roman, serif" font-size="7.5" fill="#151515" stroke="#151515" stroke-width="0.18" text-anchor="end">100</text>
<path d="M374.5,440.4 h-3.4 M374.5,425.36 h-3.4 M374.5,410.32 h-3.4 M374.5,395.28 h-3.4 M374.5,380.24 h-3.4 M374.5,365.2 h-3.4" stroke="#6e6e6e" stroke-width="0.7" fill="none"/>
<path d="M374.5,440.4 v2.6 M384.33,440.4 v1.5 M390.07,440.4 v1.5 M394.15,440.4 v1.5 M397.31,440.4 v1.5 M399.9,440.4 v1.5 M402.08,440.4 v1.5 M403.98,440.4 v1.5 M405.65,440.4 v1.5 M407.14,440.4 v2.6 M416.97,440.4 v1.5 M422.71,440.4 v1.5 M426.79,440.4 v1.5 M429.95,440.4 v1.5 M432.54,440.4 v1.5 M434.72,440.4 v1.5 M436.62,440.4 v1.5 M438.29,440.4 v1.5 M439.78,440.4 v2.6 M449.61,440.4 v1.5 M455.35,440.4 v1.5 M459.43,440.4 v1.5 M462.59,440.4 v1.5 M465.18,440.4 v1.5 M467.36,440.4 v1.5 M469.26,440.4 v1.5 M470.93,440.4 v1.5 M472.42,440.4 v2.6 M482.25,440.4 v1.5 M487.99,440.4 v1.5 M492.07,440.4 v1.5 M495.23,440.4 v1.5 M497.82,440.4 v1.5 M500,440.4 v1.5 M501.9,440.4 v1.5 M503.57,440.4 v1.5 M505.06,440.4 v2.6 M514.89,440.4 v1.5 M520.63,440.4 v1.5 M524.71,440.4 v1.5 M527.87,440.4 v1.5 M530.46,440.4 v1.5 M532.64,440.4 v1.5 M534.54,440.4 v1.5 M536.21,440.4 v1.5 M537.7,440.4 v2.6" stroke="#6e6e6e" stroke-width="0.7" fill="none"/>
<text x="374.5" y="452.5" font-family="Liberation Serif, Times New Roman, serif" font-size="7.5" fill="#151515" stroke="#151515" stroke-width="0.18" text-anchor="middle">0.01</text>
<text x="407.14" y="452.5" font-family="Liberation Serif, Times New Roman, serif" font-size="7.5" fill="#151515" stroke="#151515" stroke-width="0.18" text-anchor="middle">0.1</text>
<text x="439.78" y="452.5" font-family="Liberation Serif, Times New Roman, serif" font-size="7.5" fill="#151515" stroke="#151515" stroke-width="0.18" text-anchor="middle">1</text>
<text x="472.42" y="452.5" font-family="Liberation Serif, Times New Roman, serif" font-size="7.5" fill="#151515" stroke="#151515" stroke-width="0.18" text-anchor="middle">10</text>
<text x="505.06" y="452.5" font-family="Liberation Serif, Times New Roman, serif" font-size="7.5" fill="#151515" stroke="#151515" stroke-width="0.18" text-anchor="middle">100</text>
<text x="537.7" y="452.5" font-family="Liberation Serif, Times New Roman, serif" font-size="7.5" fill="#151515" stroke="#151515" stroke-width="0.18" text-anchor="middle">1000</text>
<text x="445.3" y="355" font-family="Liberation Serif, Times New Roman, serif" font-size="9.85" fill="#151515" stroke="#151515" stroke-width="0.18" text-anchor="middle">Undersize curve P1-9</text>
<text x="355.4" y="402.8" font-family="Liberation Serif, Times New Roman, serif" font-size="8.2" fill="#151515" stroke="#151515" stroke-width="0.18" text-anchor="middle" transform="rotate(-90 355.4 402.8)">Volume (%)</text>
<text x="450.7" y="461.7" font-family="Liberation Serif, Times New Roman, serif" font-size="8.2" fill="#151515" stroke="#151515" stroke-width="0.18" text-anchor="middle">Particle size (μm)</text>
<polyline points="430.6,440.3 431.3,440.2 431.9,440.2 432.6,440.1 433.3,440 433.9,440 434.6,439.9 435.2,439.8 435.9,439.7 436.5,439.6 437.2,439.5 437.8,439.4 438.5,439.3 439.1,439.2 439.8,439.2 440.4,439.1 441.1,439 441.7,438.9 442.4,438.8 443,438.7 443.7,438.6 444.3,438.5 445,438.4 445.7,438.3 446.3,438.2 447,438.1 447.6,438 448.3,437.9 448.9,437.8 449.6,437.6 450.2,437.5 450.9,437.4 451.5,437.3 452.2,437.2 452.8,437 453.5,436.9 454.1,436.8 454.8,436.6 455.4,436.5 456.1,436.4 456.8,436.2 457.4,436.1 458.1,435.9 458.7,435.8 459.4,435.6 460,435.5 460.7,435.3 461.3,435.2 462,435 462.6,434.9 463.3,434.7 463.9,434.6 464.6,434.4 465.2,434.3 465.9,434.1 466.5,434 467.2,433.8 467.9,433.6 468.5,433.5 469.2,433.3 469.8,433.1 470.5,433 471.1,432.8 471.8,432.7 472.4,432.5 473.1,432.3 473.7,432.2 474.4,432 475,431.8 475.7,431.7 476.3,431.5 477,431.3 477.6,431.2 478.3,431 478.9,430.8 479.6,430.7 480.3,430.5 480.9,430.3 481.6,430.2 482.2,430 482.9,429.8 483.5,429.7 484.2,429.5 484.8,429.3 485.5,429.2 486.1,429 486.8,428.8 487.4,428.7 488.1,428.5 488.7,428.3 489.4,428.2 490,428 490.7,427.9 491.4,427.7 492,427.6 492.7,427.4 493.3,427.3 494,427.1 494.6,427 495.3,426.8 495.9,426.7 496.6,426.5 497.2,426.4 497.9,426.2 498.5,426.1 499.2,426 499.8,425.8 500.5,425.7 501.1,425.5 501.8,425.3 502.4,425.2 503.1,425 503.8,424.8 504.4,424.5 505.1,424.3 505.7,424 506.4,423.7 507,423.3 507.7,422.8 508.3,422.3 509,421.7 509.6,421.1 510.3,420.3 510.9,419.4 511.6,418.4 512.2,417.3 512.9,416.1 513.5,414.7 514.2,413.2 514.9,411.6 515.5,409.9 516.2,408 516.8,406 517.5,404 518.1,401.8 518.8,399.6 519.4,397.3 520.1,395 520.7,392.8 521.4,390.5 522,388.3 522.7,386.1 523.3,384 524,382 524.6,380.1 525.3,378.3 525.9,376.7 526.6,375.1 527.3,373.7 527.9,372.5 528.6,371.4 529.2,370.4 529.9,369.5 530.5,368.7 531.2,368.1 531.8,367.5 532.5,367.1 533.1,366.7 533.8,366.3 534.4,366.1 535.1,365.8 535.7,365.6 536.4,365.5 537,365.4 537.7,365.3" fill="none" stroke="#c0504d" stroke-width="1.2" stroke-linejoin="round" stroke-linecap="round"/>
<polyline points="428,440.3 428.7,440.2 429.3,440.1 430,440 430.6,439.9 431.3,439.7 431.9,439.5 432.6,439.2 433.3,438.9 433.9,438.6 434.6,438.2 435.2,437.9 435.9,437.5 436.5,437 437.2,436.6 437.8,436.2 438.5,435.7 439.1,435.3 439.8,434.8 440.4,434.4 441.1,433.9 441.7,433.4 442.4,432.9 443,432.4 443.7,431.9 444.3,431.4 445,430.9 445.7,430.3 446.3,429.8 447,429.2 447.6,428.6 448.3,428 448.9,427.4 449.6,426.7 450.2,426.1 450.9,425.4 451.5,424.7 452.2,424 452.8,423.3 453.5,422.6 454.1,421.9 454.8,421.2 455.4,420.4 456.1,419.7 456.8,418.9 457.4,418.1 458.1,417.4 458.7,416.6 459.4,415.8 460,415 460.7,414.2 461.3,413.5 462,412.7 462.6,411.9 463.3,411.1 463.9,410.3 464.6,409.5 465.2,408.7 465.9,407.9 466.5,407.1 467.2,406.3 467.9,405.5 468.5,404.7 469.2,403.9 469.8,403.2 470.5,402.4 471.1,401.6 471.8,400.8 472.4,400 473.1,399.2 473.7,398.4 474.4,397.7 475,396.9 475.7,396.1 476.3,395.3 477,394.6 477.6,393.8 478.3,393 478.9,392.2 479.6,391.5 480.3,390.7 480.9,389.9 481.6,389.2 482.2,388.4 482.9,387.6 483.5,386.9 484.2,386.1 484.8,385.4 485.5,384.6 486.1,383.9 486.8,383.2 487.4,382.4 488.1,381.7 488.7,381 489.4,380.2 490,379.5 490.7,378.8 491.4,378.1 492,377.5 492.7,376.8 493.3,376.1 494,375.5 494.6,374.8 495.3,374.2 495.9,373.6 496.6,373 497.2,372.5 497.9,371.9 498.5,371.4 499.2,370.9 499.8,370.4 500.5,369.9 501.1,369.5 501.8,369.1 502.4,368.7 503.1,368.3 503.8,368 504.4,367.7 505.1,367.4 505.7,367.1 506.4,366.9 507,366.6 507.7,366.4 508.3,366.2 509,366.1 509.6,365.9 510.3,365.8 510.9,365.7 511.6,365.6 512.2,365.5 512.9,365.4 513.5,365.4 514.2,365.3 515.5,365.3 516.2,365.2 537.7,365.2" fill="none" stroke="#4f81bd" stroke-width="1.2" stroke-linejoin="round" stroke-linecap="round"/>
<polyline points="430.6,440.3 431.3,440.2 431.9,440.2 432.6,440.1 433.3,440 433.9,440 434.6,439.9 435.2,439.8 435.9,439.7 436.5,439.6 437.2,439.5 437.8,439.4 438.5,439.3 439.1,439.3 439.8,439.2 440.4,439.1 441.1,439 441.7,438.9 442.4,438.8 443,438.7 443.7,438.6 444.3,438.5 445,438.4 445.7,438.3 446.3,438.2 447,438.1 447.6,438 448.3,437.9 448.9,437.8 449.6,437.7 450.2,437.6 450.9,437.5 451.5,437.3 452.2,437.2 452.8,437.1 453.5,437 454.1,436.8 454.8,436.7 455.4,436.6 456.1,436.4 456.8,436.3 457.4,436.2 458.1,436 458.7,435.9 459.4,435.8 460,435.6 460.7,435.5 461.3,435.3 462,435.2 462.6,435 463.3,434.9 463.9,434.7 464.6,434.6 465.2,434.4 465.9,434.3 466.5,434.1 467.2,434 467.9,433.8 468.5,433.7 469.2,433.5 469.8,433.3 470.5,433.2 471.1,433 471.8,432.9 472.4,432.7 473.1,432.5 473.7,432.4 474.4,432.2 475,432.1 475.7,431.9 476.3,431.7 477,431.6 477.6,431.4 478.3,431.3 478.9,431.1 479.6,430.9 480.3,430.8 480.9,430.6 481.6,430.4 482.2,430.3 482.9,430.1 483.5,430 484.2,429.8 484.8,429.6 485.5,429.5 486.1,429.3 486.8,429.2 487.4,429 488.1,428.9 488.7,428.7 489.4,428.5 490,428.4 490.7,428.2 491.4,428.1 492,427.9 492.7,427.8 493.3,427.6 494,427.5 494.6,427.3 495.3,427.2 495.9,427 496.6,426.8 497.2,426.6 497.9,426.4 498.5,426.2 499.2,425.9 499.8,425.6 500.5,425.3 501.1,424.8 501.8,424.3 502.4,423.7 503.1,422.9 503.8,422.1 504.4,421 505.1,419.8 505.7,418.4 506.4,416.8 507,415 507.7,413 508.3,410.7 509,408.3 509.6,405.8 510.3,403.1 510.9,400.3 511.6,397.4 512.2,394.5 512.9,391.6 513.5,388.8 514.2,386.1 514.9,383.4 515.5,381 516.2,378.7 516.8,376.6 517.5,374.8 518.1,373.1 518.8,371.7 519.4,370.4 520.1,369.4 520.7,368.5 521.4,367.7 522,367.1 522.7,366.6 523.3,366.2 524,365.9 524.6,365.7 525.3,365.5 525.9,365.4 526.6,365.3 527.3,365.3 527.9,365.2 537.7,365.2" fill="none" stroke="#9bbb59" stroke-width="1.2" stroke-linejoin="round" stroke-linecap="round"/>
<polyline points="428.7,440.3 429.3,440.2 430,440.2 430.6,440.1 431.3,440 431.9,439.9 432.6,439.7 433.3,439.6 433.9,439.4 434.6,439.2 435.2,439 435.9,438.8 436.5,438.6 437.2,438.4 437.8,438.1 438.5,437.9 439.1,437.7 439.8,437.5 440.4,437.2 441.1,437 441.7,436.8 442.4,436.6 443,436.3 443.7,436.1 444.3,435.9 445,435.6 445.7,435.4 446.3,435.1 447,434.9 447.6,434.6 448.3,434.4 448.9,434.1 449.6,433.8 450.2,433.5 450.9,433.3 451.5,433 452.2,432.7 452.8,432.4 453.5,432.1 454.1,431.8 454.8,431.4 455.4,431.1 456.1,430.8 456.8,430.5 457.4,430.2 458.1,429.8 458.7,429.5 459.4,429.2 460,428.8 460.7,428.5 461.3,428.1 462,427.8 462.6,427.4 463.3,427.1 463.9,426.7 464.6,426.4 465.2,426 465.9,425.7 466.5,425.3 467.2,424.9 467.9,424.6 468.5,424.2 469.2,423.9 469.8,423.5 470.5,423.1 471.1,422.8 471.8,422.4 472.4,422 473.1,421.6 473.7,421.3 474.4,420.9 475,420.5 475.7,420.1 476.3,419.8 477,419.4 477.6,419 478.3,418.6 478.9,418.3 479.6,417.9 480.3,417.5 480.9,417.1 481.6,416.7 482.2,416.4 482.9,416 483.5,415.6 484.2,415.2 484.8,414.8 485.5,414.5 486.1,414.1 486.8,413.7 487.4,413.3 488.1,412.9 488.7,412.5 489.4,412.2 490,411.8 490.7,411.4 491.4,411 492,410.6 492.7,410.1 493.3,409.7 494,409.3 494.6,408.8 495.3,408.3 495.9,407.8 496.6,407.3 497.2,406.7 497.9,406.1 498.5,405.5 499.2,404.7 499.8,404 500.5,403.1 501.1,402.2 501.8,401.3 502.4,400.2 503.1,399.1 503.8,397.9 504.4,396.6 505.1,395.3 505.7,393.9 506.4,392.4 507,390.9 507.7,389.4 508.3,387.8 509,386.3 509.6,384.7 510.3,383.1 510.9,381.6 511.6,380.1 512.2,378.7 512.9,377.3 513.5,376 514.2,374.8 514.9,373.7 515.5,372.6 516.2,371.6 516.8,370.8 517.5,370 518.1,369.3 518.8,368.6 519.4,368.1 520.1,367.6 520.7,367.2 521.4,366.8 522,366.5 522.7,366.3 523.3,366 524,365.8 524.6,365.7 525.3,365.5 525.9,365.4 526.6,365.3 527.3,365.3 527.9,365.2 537.7,365.2" fill="none" stroke="#8064a2" stroke-width="1.2" stroke-linejoin="round" stroke-linecap="round"/>
<polyline points="430.6,440.3 431.3,440.2 431.9,440.2 432.6,440.1 433.3,440.1 433.9,440 434.6,440 435.2,439.9 435.9,439.8 436.5,439.7 437.2,439.7 437.8,439.6 438.5,439.5 439.1,439.4 439.8,439.3 440.4,439.3 441.1,439.2 441.7,439.1 442.4,439 443,438.9 443.7,438.9 444.3,438.8 445,438.7 445.7,438.6 446.3,438.5 447,438.4 447.6,438.3 448.3,438.2 448.9,438.1 449.6,438 450.2,437.9 450.9,437.8 451.5,437.7 452.2,437.6 452.8,437.5 453.5,437.4 454.1,437.2 454.8,437.1 455.4,437 456.1,436.9 456.8,436.8 457.4,436.6 458.1,436.5 458.7,436.4 459.4,436.3 460,436.1 460.7,436 461.3,435.9 462,435.7 462.6,435.6 463.3,435.5 463.9,435.3 464.6,435.2 465.2,435 465.9,434.9 466.5,434.8 467.2,434.6 467.9,434.5 468.5,434.3 469.2,434.2 469.8,434.1 470.5,433.9 471.1,433.8 471.8,433.6 472.4,433.5 473.1,433.3 473.7,433.2 474.4,433 475,432.9 475.7,432.7 476.3,432.6 477,432.5 477.6,432.3 478.3,432.2 478.9,432 479.6,431.9 480.3,431.7 480.9,431.6 481.6,431.4 482.2,431.3 482.9,431.1 483.5,431 484.2,430.8 484.8,430.7 485.5,430.5 486.1,430.4 486.8,430.3 487.4,430.1 488.1,430 488.7,429.8 489.4,429.7 490,429.5 490.7,429.4 491.4,429.3 492,429.1 492.7,429 493.3,428.9 494,428.7 494.6,428.6 495.3,428.5 495.9,428.4 496.6,428.2 497.2,428.1 497.9,428 498.5,427.9 499.2,427.8 499.8,427.6 500.5,427.5 501.1,427.4 501.8,427.3 502.4,427.2 503.1,427.1 503.8,426.9 504.4,426.8 505.1,426.7 505.7,426.5 506.4,426.3 507,426.1 507.7,425.8 508.3,425.4 509,425 509.6,424.4 510.3,423.8 510.9,422.9 511.6,422 512.2,420.8 512.9,419.4 513.5,417.8 514.2,416 514.9,414 515.5,411.7 516.2,409.2 516.8,406.5 517.5,403.7 518.1,400.7 518.8,397.7 519.4,394.6 520.1,391.5 520.7,388.5 521.4,385.6 522,382.9 522.7,380.3 523.3,377.9 524,375.8 524.6,373.9 525.3,372.2 525.9,370.8 526.6,369.6 527.3,368.5 527.9,367.7 528.6,367 529.2,366.5 529.9,366 530.5,365.7 531.2,365.5 531.8,365.4 532.5,365.3 533.1,365.2 537.7,365.2" fill="none" stroke="#4bacc6" stroke-width="1.2" stroke-linejoin="round" stroke-linecap="round"/>
<polyline points="428,440.3 428.7,440.2 429.3,440.2 430,440.1 430.6,440 431.3,439.9 431.9,439.7 432.6,439.6 433.3,439.4 433.9,439.2 434.6,439 435.2,438.8 435.9,438.6 436.5,438.3 437.2,438.1 437.8,437.8 438.5,437.6 439.1,437.3 439.8,437 440.4,436.8 441.1,436.5 441.7,436.2 442.4,436 443,435.7 443.7,435.4 444.3,435.1 445,434.8 445.7,434.5 446.3,434.2 447,433.9 447.6,433.6 448.3,433.3 448.9,433 449.6,432.6 450.2,432.3 450.9,432 451.5,431.6 452.2,431.3 452.8,430.9 453.5,430.5 454.1,430.2 454.8,429.8 455.4,429.4 456.1,429 456.8,428.6 457.4,428.2 458.1,427.9 458.7,427.5 459.4,427.1 460,426.7 460.7,426.3 461.3,425.9 462,425.5 462.6,425 463.3,424.6 463.9,424.2 464.6,423.8 465.2,423.4 465.9,423 466.5,422.6 467.2,422.2 467.9,421.7 468.5,421.3 469.2,420.9 469.8,420.5 470.5,420.1 471.1,419.6 471.8,419.2 472.4,418.8 473.1,418.4 473.7,417.9 474.4,417.5 475,417.1 475.7,416.7 476.3,416.3 477,415.8 477.6,415.4 478.3,415 478.9,414.6 479.6,414.1 480.3,413.7 480.9,413.3 481.6,412.9 482.2,412.4 482.9,412 483.5,411.6 484.2,411.2 484.8,410.7 485.5,410.3 486.1,409.9 486.8,409.4 487.4,409 488.1,408.6 488.7,408.1 489.4,407.7 490,407.2 490.7,406.8 491.4,406.3 492,405.9 492.7,405.4 493.3,404.9 494,404.4 494.6,403.9 495.3,403.4 495.9,402.9 496.6,402.4 497.2,401.8 497.9,401.3 498.5,400.7 499.2,400.1 499.8,399.5 500.5,398.8 501.1,398.2 501.8,397.5 502.4,396.8 503.1,396 503.8,395.3 504.4,394.5 505.1,393.7 505.7,392.9 506.4,392.1 507,391.2 507.7,390.4 508.3,389.5 509,388.6 509.6,387.7 510.3,386.8 510.9,385.9 511.6,384.9 512.2,384 512.9,383.1 513.5,382.2 514.2,381.3 514.9,380.4 515.5,379.5 516.2,378.6 516.8,377.8 517.5,376.9 518.1,376.1 518.8,375.4 519.4,374.6 520.1,373.9 520.7,373.2 521.4,372.6 522,371.9 522.7,371.4 523.3,370.8 524,370.3 524.6,369.8 525.3,369.3 525.9,368.9 526.6,368.5 527.3,368.1 527.9,367.8 528.6,367.5 529.2,367.2 529.9,366.9 530.5,366.7 531.2,366.5 531.8,366.3 532.5,366.1 533.1,365.9 533.8,365.8 534.4,365.6 535.1,365.5 535.7,365.4 536.4,365.3 537,365.3 537.7,365.2" fill="none" stroke="#f79646" stroke-width="1.2" stroke-linejoin="round" stroke-linecap="round"/>
<polyline points="430.6,440.3 431.3,440.2 432.6,440.2 433.3,440.1 433.9,440 434.6,440 435.2,439.9 435.9,439.8 436.5,439.8 437.2,439.7 437.8,439.6 438.5,439.5 439.1,439.5 439.8,439.4 440.4,439.3 441.1,439.2 441.7,439.2 442.4,439.1 443,439 443.7,438.9 444.3,438.8 445,438.8 445.7,438.7 446.3,438.6 447,438.5 447.6,438.4 448.3,438.3 448.9,438.2 449.6,438.1 450.2,438 450.9,437.9 451.5,437.8 452.2,437.7 452.8,437.6 453.5,437.5 454.1,437.4 454.8,437.3 455.4,437.1 456.1,437 456.8,436.9 457.4,436.8 458.1,436.7 458.7,436.6 459.4,436.4 460,436.3 460.7,436.2 461.3,436.1 462,435.9 462.6,435.8 463.3,435.7 463.9,435.5 464.6,435.4 465.2,435.3 465.9,435.1 466.5,435 467.2,434.9 467.9,434.7 468.5,434.6 469.2,434.5 469.8,434.3 470.5,434.2 471.1,434 471.8,433.9 472.4,433.8 473.1,433.6 473.7,433.5 474.4,433.3 475,433.2 475.7,433.1 476.3,432.9 477,432.8 477.6,432.6 478.3,432.5 478.9,432.4 479.6,432.2 480.3,432.1 480.9,431.9 481.6,431.8 482.2,431.6 482.9,431.5 483.5,431.4 484.2,431.2 484.8,431.1 485.5,430.9 486.1,430.8 486.8,430.7 487.4,430.5 488.1,430.4 488.7,430.3 489.4,430.1 490,430 490.7,429.9 491.4,429.7 492,429.6 492.7,429.5 493.3,429.3 494,429.2 494.6,429.1 495.3,429 495.9,428.9 496.6,428.7 497.2,428.6 497.9,428.5 498.5,428.4 499.2,428.3 499.8,428.2 500.5,428 501.1,427.9 501.8,427.8 502.4,427.7 503.1,427.6 503.8,427.4 504.4,427.3 505.1,427.1 505.7,426.9 506.4,426.7 507,426.5 507.7,426.2 508.3,425.9 509,425.6 509.6,425.1 510.3,424.6 510.9,424.1 511.6,423.4 512.2,422.6 512.9,421.7 513.5,420.7 514.2,419.5 514.9,418.2 515.5,416.8 516.2,415.2 516.8,413.5 517.5,411.6 518.1,409.6 518.8,407.5 519.4,405.3 520.1,403 520.7,400.6 521.4,398.2 522,395.8 522.7,393.3 523.3,390.9 524,388.5 524.6,386.3 525.3,384.1 525.9,382 526.6,380 527.3,378.1 527.9,376.4 528.6,374.9 529.2,373.5 529.9,372.2 530.5,371.1 531.2,370.1 531.8,369.3 532.5,368.5 533.1,367.9 533.8,367.4 534.4,366.9 535.1,366.6 535.7,366.3 536.4,366 537,365.8 537.7,365.7" fill="none" stroke="#2c4d75" stroke-width="1.35" stroke-linejoin="round" stroke-linecap="round"/>
<polyline points="428,440.3 428.7,440.2 429.3,440.2 430,440.1 430.6,439.9 431.3,439.8 431.9,439.6 432.6,439.4 433.3,439.2 433.9,438.9 434.6,438.6 435.2,438.3 435.9,438 436.5,437.6 437.2,437.3 437.8,436.9 438.5,436.6 439.1,436.2 439.8,435.8 440.4,435.5 441.1,435.1 441.7,434.7 442.4,434.3 443,433.9 443.7,433.5 444.3,433.1 445,432.7 445.7,432.3 446.3,431.8 447,431.4 447.6,430.9 448.3,430.4 448.9,429.9 449.6,429.5 450.2,428.9 450.9,428.4 451.5,427.9 452.2,427.4 452.8,426.8 453.5,426.3 454.1,425.7 454.8,425.2 455.4,424.6 456.1,424 456.8,423.4 457.4,422.8 458.1,422.2 458.7,421.6 459.4,421.1 460,420.4 460.7,419.8 461.3,419.2 462,418.6 462.6,418 463.3,417.4 463.9,416.8 464.6,416.2 465.2,415.5 465.9,414.9 466.5,414.3 467.2,413.7 467.9,413 468.5,412.4 469.2,411.8 469.8,411.2 470.5,410.5 471.1,409.9 471.8,409.3 472.4,408.6 473.1,408 473.7,407.4 474.4,406.7 475,406.1 475.7,405.5 476.3,404.8 477,404.2 477.6,403.6 478.3,402.9 478.9,402.3 479.6,401.6 480.3,401 480.9,400.4 481.6,399.7 482.2,399.1 482.9,398.5 483.5,397.8 484.2,397.2 484.8,396.6 485.5,395.9 486.1,395.3 486.8,394.6 487.4,394 488.1,393.4 488.7,392.7 489.4,392.1 490,391.5 490.7,390.8 491.4,390.2 492,389.6 492.7,388.9 493.3,388.3 494,387.6 494.6,387 495.3,386.4 495.9,385.7 496.6,385.1 497.2,384.4 497.9,383.8 498.5,383.1 499.2,382.5 499.8,381.8 500.5,381.1 501.1,380.4 501.8,379.7 502.4,379.1 503.1,378.4 503.8,377.7 504.4,376.9 505.1,376.2 505.7,375.5 506.4,374.8 507,374.1 507.7,373.4 508.3,372.7 509,372 509.6,371.4 510.3,370.8 510.9,370.2 511.6,369.6 512.2,369 512.9,368.5 513.5,368.1 514.2,367.6 514.9,367.2 515.5,366.9 516.2,366.5 516.8,366.2 517.5,366 518.1,365.8 518.8,365.6 519.4,365.5 520.1,365.4 520.7,365.3 521.4,365.3 522,365.2 537.7,365.2" fill="none" stroke="#772c2a" stroke-width="1.35" stroke-linejoin="round" stroke-linecap="round"/>
<polyline points="381.7,440.4 426.1,440.4 426.7,440.3 427.4,440.3 428,440.2 428.7,440.1 429.3,440 430,439.8 430.6,439.6 431.3,439.4 431.9,439.1 432.6,438.8 433.3,438.5 433.9,438.1 434.6,437.6 435.2,437.1 435.9,436.6 436.5,436.1 437.2,435.6 437.8,435 438.5,434.5 439.1,433.9 439.8,433.3 440.4,432.7 441.1,432.1 441.7,431.5 442.4,430.9 443,430.3 443.7,429.6 444.3,428.9 445,428.2 445.7,427.5 446.3,426.8 447,426 447.6,425.2 448.3,424.4 448.9,423.6 449.6,422.7 450.2,421.8 450.9,420.9 451.5,419.9 452.2,419 452.8,418 453.5,417 454.1,416 454.8,414.9 455.4,413.9 456.1,412.8 456.8,411.7 457.4,410.6 458.1,409.5 458.7,408.4 459.4,407.3 460,406.2 460.7,405.1 461.3,404 462,402.8 462.6,401.7 463.3,400.6 463.9,399.5 464.6,398.4 465.2,397.3 465.9,396.2 466.5,395.1 467.2,394 467.9,393 468.5,391.9 469.2,390.9 469.8,389.8 470.5,388.8 471.1,387.8 471.8,386.8 472.4,385.9 473.1,384.9 473.7,384 474.4,383.1 475,382.2 475.7,381.3 476.3,380.5 477,379.6 477.6,378.8 478.3,378 478.9,377.3 479.6,376.5 480.3,375.8 480.9,375.1 481.6,374.4 482.2,373.7 482.9,373.1 483.5,372.5 484.2,371.9 484.8,371.3 485.5,370.8 486.1,370.2 486.8,369.7 487.4,369.2 488.1,368.8 488.7,368.3 489.4,367.9 490,367.6 490.7,367.2 491.4,366.9 492,366.6 492.7,366.4 493.3,366.2 494,366 494.6,365.8 495.3,365.7 495.9,365.6 496.6,365.5 497.2,365.4 497.9,365.3 499.2,365.3 499.8,365.2 537.7,365.2" fill="none" stroke="#5f7530" stroke-width="1.2" stroke-linejoin="round" stroke-linecap="round"/>
<line x1="381.2" y1="368.1" x2="392.2" y2="368.1" stroke="#c0504d" stroke-width="1.3"/>
<text x="393.8" y="370.66" font-family="Liberation Serif, Times New Roman, serif" font-size="7.75" fill="#151515" stroke="#151515" stroke-width="0.18">P1</text>
<line x1="409.7" y1="368.1" x2="420.7" y2="368.1" stroke="#4f81bd" stroke-width="1.3"/>
<text x="422.1" y="370.66" font-family="Liberation Serif, Times New Roman, serif" font-size="7.75" fill="#151515" stroke="#151515" stroke-width="0.18">P2</text>
<line x1="381.2" y1="376.55" x2="392.2" y2="376.55" stroke="#9bbb59" stroke-width="1.3"/>
<text x="393.8" y="379.11" font-family="Liberation Serif, Times New Roman, serif" font-size="7.75" fill="#151515" stroke="#151515" stroke-width="0.18">P3</text>
<line x1="409.7" y1="376.55" x2="420.7" y2="376.55" stroke="#8064a2" stroke-width="1.3"/>
<text x="422.1" y="379.11" font-family="Liberation Serif, Times New Roman, serif" font-size="7.75" fill="#151515" stroke="#151515" stroke-width="0.18">P4</text>
<line x1="381.2" y1="385" x2="392.2" y2="385" stroke="#4bacc6" stroke-width="1.3"/>
<text x="393.8" y="387.56" font-family="Liberation Serif, Times New Roman, serif" font-size="7.75" fill="#151515" stroke="#151515" stroke-width="0.18">P5</text>
<line x1="409.7" y1="385" x2="420.7" y2="385" stroke="#f79646" stroke-width="1.3"/>
<text x="422.1" y="387.56" font-family="Liberation Serif, Times New Roman, serif" font-size="7.75" fill="#151515" stroke="#151515" stroke-width="0.18">P6</text>
<line x1="381.2" y1="393.45" x2="392.2" y2="393.45" stroke="#2c4d75" stroke-width="1.45"/>
<text x="393.8" y="396.01" font-family="Liberation Serif, Times New Roman, serif" font-size="7.75" fill="#151515" stroke="#151515" stroke-width="0.18">P7</text>
<line x1="409.7" y1="393.45" x2="420.7" y2="393.45" stroke="#772c2a" stroke-width="1.45"/>
<text x="422.1" y="396.01" font-family="Liberation Serif, Times New Roman, serif" font-size="7.75" fill="#151515" stroke="#151515" stroke-width="0.18">P8</text>
<line x1="381.2" y1="401.9" x2="392.2" y2="401.9" stroke="#5f7530" stroke-width="1.3"/>
<text x="393.8" y="404.46" font-family="Liberation Serif, Times New Roman, serif" font-size="7.75" fill="#151515" stroke="#151515" stroke-width="0.18">P9</text>
</svg>
</body></html>
